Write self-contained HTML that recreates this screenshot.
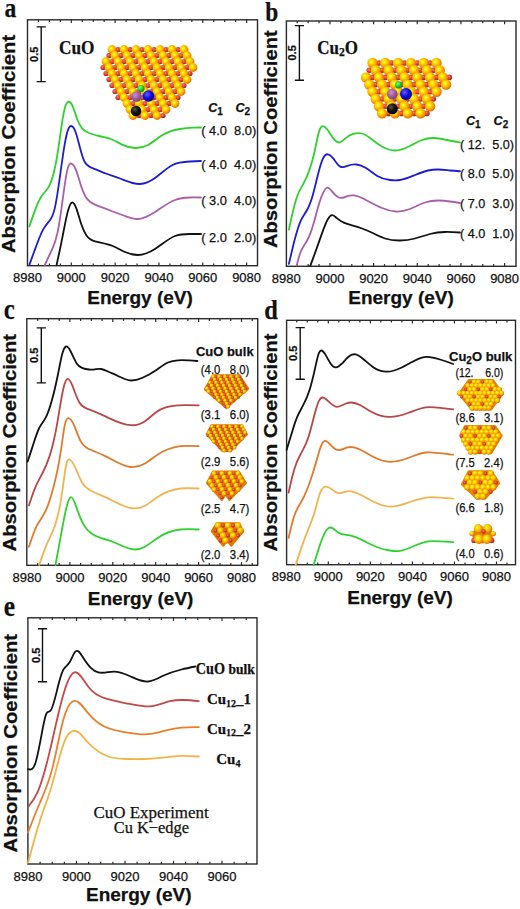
<!DOCTYPE html><html><head><meta charset="utf-8"><style>
body{margin:0;background:#fff;width:520px;height:909px;overflow:hidden}
svg{display:block}
text{font-family:"Liberation Sans",sans-serif;fill:#111;stroke:#111;stroke-width:0.25px}
.tl{font-size:13px}
.et{font-size:19px;font-weight:bold}
.yt{font-size:19px;font-weight:bold}
.sb{font-size:11px;font-weight:bold}
.pl{font-family:"Liberation Serif",serif;font-size:28px;font-weight:bold}
.cl{font-family:"Liberation Serif",serif;font-size:19px;font-weight:bold}
.sub2{font-size:13px}
.sub3{font-size:10px}
.sub4{font-size:10px}
.ci{font-size:12.5px;font-weight:bold;font-style:italic}
.sub{font-size:10px;font-style:normal;font-weight:bold}
.pv{font-size:12.5px}
.bk{font-size:13px;font-weight:bold}
.eb{font-family:"Liberation Serif",serif;font-size:15px;font-weight:bold}
.ex{font-family:"Liberation Serif",serif;font-size:17px}
</style></head><body><svg width="520" height="909" viewBox="0 0 520 909"><text x="4.4" y="17.3" class="pl" text-anchor="start" textLength="11.8" lengthAdjust="spacingAndGlyphs">a</text>
<text transform="translate(15.4,253) rotate(-90)" class="yt" textLength="218.2" lengthAdjust="spacingAndGlyphs">Absorption Coefficient</text>
<rect x="27.5" y="19.8" width="230" height="245.9" fill="none" stroke="#2a2a2a" stroke-width="1.4"/>
<line x1="38.45" y1="19.8" x2="38.45" y2="22" stroke="#2a2a2a" stroke-width="1.2"/>
<line x1="38.45" y1="265.7" x2="38.45" y2="263.5" stroke="#2a2a2a" stroke-width="1.2"/>
<line x1="49.41" y1="19.8" x2="49.41" y2="22" stroke="#2a2a2a" stroke-width="1.2"/>
<line x1="49.41" y1="265.7" x2="49.41" y2="263.5" stroke="#2a2a2a" stroke-width="1.2"/>
<line x1="60.36" y1="19.8" x2="60.36" y2="22" stroke="#2a2a2a" stroke-width="1.2"/>
<line x1="60.36" y1="265.7" x2="60.36" y2="263.5" stroke="#2a2a2a" stroke-width="1.2"/>
<line x1="71.32" y1="19.8" x2="71.32" y2="23" stroke="#2a2a2a" stroke-width="1.2"/>
<line x1="71.32" y1="265.7" x2="71.32" y2="262.5" stroke="#2a2a2a" stroke-width="1.2"/>
<line x1="82.28" y1="19.8" x2="82.28" y2="22" stroke="#2a2a2a" stroke-width="1.2"/>
<line x1="82.28" y1="265.7" x2="82.28" y2="263.5" stroke="#2a2a2a" stroke-width="1.2"/>
<line x1="93.23" y1="19.8" x2="93.23" y2="22" stroke="#2a2a2a" stroke-width="1.2"/>
<line x1="93.23" y1="265.7" x2="93.23" y2="263.5" stroke="#2a2a2a" stroke-width="1.2"/>
<line x1="104.18" y1="19.8" x2="104.18" y2="22" stroke="#2a2a2a" stroke-width="1.2"/>
<line x1="104.18" y1="265.7" x2="104.18" y2="263.5" stroke="#2a2a2a" stroke-width="1.2"/>
<line x1="115.14" y1="19.8" x2="115.14" y2="23" stroke="#2a2a2a" stroke-width="1.2"/>
<line x1="115.14" y1="265.7" x2="115.14" y2="262.5" stroke="#2a2a2a" stroke-width="1.2"/>
<line x1="126.09" y1="19.8" x2="126.09" y2="22" stroke="#2a2a2a" stroke-width="1.2"/>
<line x1="126.09" y1="265.7" x2="126.09" y2="263.5" stroke="#2a2a2a" stroke-width="1.2"/>
<line x1="137.05" y1="19.8" x2="137.05" y2="22" stroke="#2a2a2a" stroke-width="1.2"/>
<line x1="137.05" y1="265.7" x2="137.05" y2="263.5" stroke="#2a2a2a" stroke-width="1.2"/>
<line x1="148" y1="19.8" x2="148" y2="22" stroke="#2a2a2a" stroke-width="1.2"/>
<line x1="148" y1="265.7" x2="148" y2="263.5" stroke="#2a2a2a" stroke-width="1.2"/>
<line x1="158.96" y1="19.8" x2="158.96" y2="23" stroke="#2a2a2a" stroke-width="1.2"/>
<line x1="158.96" y1="265.7" x2="158.96" y2="262.5" stroke="#2a2a2a" stroke-width="1.2"/>
<line x1="169.91" y1="19.8" x2="169.91" y2="22" stroke="#2a2a2a" stroke-width="1.2"/>
<line x1="169.91" y1="265.7" x2="169.91" y2="263.5" stroke="#2a2a2a" stroke-width="1.2"/>
<line x1="180.87" y1="19.8" x2="180.87" y2="22" stroke="#2a2a2a" stroke-width="1.2"/>
<line x1="180.87" y1="265.7" x2="180.87" y2="263.5" stroke="#2a2a2a" stroke-width="1.2"/>
<line x1="191.82" y1="19.8" x2="191.82" y2="22" stroke="#2a2a2a" stroke-width="1.2"/>
<line x1="191.82" y1="265.7" x2="191.82" y2="263.5" stroke="#2a2a2a" stroke-width="1.2"/>
<line x1="202.78" y1="19.8" x2="202.78" y2="23" stroke="#2a2a2a" stroke-width="1.2"/>
<line x1="202.78" y1="265.7" x2="202.78" y2="262.5" stroke="#2a2a2a" stroke-width="1.2"/>
<line x1="213.73" y1="19.8" x2="213.73" y2="22" stroke="#2a2a2a" stroke-width="1.2"/>
<line x1="213.73" y1="265.7" x2="213.73" y2="263.5" stroke="#2a2a2a" stroke-width="1.2"/>
<line x1="224.69" y1="19.8" x2="224.69" y2="22" stroke="#2a2a2a" stroke-width="1.2"/>
<line x1="224.69" y1="265.7" x2="224.69" y2="263.5" stroke="#2a2a2a" stroke-width="1.2"/>
<line x1="235.64" y1="19.8" x2="235.64" y2="22" stroke="#2a2a2a" stroke-width="1.2"/>
<line x1="235.64" y1="265.7" x2="235.64" y2="263.5" stroke="#2a2a2a" stroke-width="1.2"/>
<line x1="246.6" y1="19.8" x2="246.6" y2="23" stroke="#2a2a2a" stroke-width="1.2"/>
<line x1="246.6" y1="265.7" x2="246.6" y2="262.5" stroke="#2a2a2a" stroke-width="1.2"/>
<text x="27.5" y="282.2" class="tl" text-anchor="middle">8980</text>
<text x="71.32" y="282.2" class="tl" text-anchor="middle">9000</text>
<text x="115.14" y="282.2" class="tl" text-anchor="middle">9020</text>
<text x="158.96" y="282.2" class="tl" text-anchor="middle">9040</text>
<text x="202.78" y="282.2" class="tl" text-anchor="middle">9060</text>
<text x="246.6" y="282.2" class="tl" text-anchor="middle">9080</text>
<text x="140" y="303.6" class="et" text-anchor="middle" >Energy (eV)</text>
<path d="M36.6,26.9H45.8M41.2,26.9V81.6M36.6,81.6H45.8" stroke="#111" stroke-width="1.4" fill="none"/>
<text transform="translate(38.2,54.25) rotate(-90)" class="sb" text-anchor="middle">0.5</text>
<text x="59" y="53.6" class="cl" text-anchor="start" textLength="35.5" lengthAdjust="spacingAndGlyphs">CuO</text>
<path d="M29.35,226.4C31.2,220.96 33.05,215.52 34.9,210.6C37.2,204.48 39.5,199.17 41.8,195.8C44.1,192.43 46.4,191.01 48.7,186.9C50.37,183.92 52.03,179.53 53.7,173C55,167.91 56.3,161.52 57.6,153.3C58.93,144.87 60.27,134.5 61.6,125.6C62.9,116.92 64.2,109.62 65.5,105.8C66.37,103.25 67.23,102.25 68.1,101.9C69.57,101.31 71.03,102.58 72.5,105.8C74.13,109.38 75.77,115.37 77.4,119.7C79.03,124.03 80.67,126.72 82.3,128.6C84.97,131.68 87.63,132.63 90.3,133.5C93.87,134.66 97.43,135.68 101,136.5C104.67,137.34 108.33,137.97 112,139.5C115.33,140.89 118.67,143.01 122,144.6C126.5,146.75 131,147.91 135.5,148C139.67,148.08 143.83,147.23 148,145C152.83,142.41 157.67,137.97 162.5,135C168.33,131.42 174.17,129.99 180,129C184.33,128.27 188.67,127.78 193,127.6C195.67,127.49 198.33,127.49 201,127.5" fill="none" stroke="#2fd02f" stroke-width="1.8" stroke-linejoin="round" stroke-linecap="round"/>
<path d="M29.35,265C31.87,257.94 34.38,250.88 36.9,244.2C39.2,238.09 41.5,232.3 43.8,228.4C45.77,225.06 47.73,223.11 49.7,220.5C51.37,218.29 53.03,215.61 54.7,208.6C56.33,201.73 57.97,190.68 59.6,179C61.23,167.32 62.87,154.99 64.5,145.4C65.83,137.57 67.17,131.57 68.5,128.6C69.37,126.67 70.23,126.01 71.1,126C72.53,125.98 73.97,127.71 75.4,131.5C77.07,135.9 78.73,143.08 80.4,149.3C81.7,154.15 83,158.41 84.3,161.2C86.3,165.49 88.3,166.28 90.3,167.1C95.47,169.23 100.63,171.57 105.8,173.5C110.53,175.27 115.27,176.7 120,178.5C126.67,181.04 133.33,184.31 140,184C145,183.77 150,181.52 155,178C160.83,173.89 166.67,168.03 172.5,165C178.33,161.97 184.17,161.75 190,161.5C193.67,161.34 197.33,161.17 201,161" fill="none" stroke="#1e1ec8" stroke-width="1.8" stroke-linejoin="round" stroke-linecap="round"/>
<path d="M44.8,265C47.1,260.04 49.4,255.07 51.7,250.2C53.67,246.03 55.63,241.93 57.6,232.4C59.6,222.7 61.6,207.39 63.6,192.8C64.9,183.32 66.2,174.14 67.5,169.1C68.83,163.93 70.17,163.12 71.5,163.6C73.13,164.19 74.77,166.73 76.4,171.1C78.07,175.56 79.73,181.93 81.4,186.9C83.03,191.77 84.67,195.29 86.3,197.8C89.2,202.25 92.1,203.5 95,204.7C100.9,207.13 106.8,209.33 112.7,211.5C116.8,213.01 120.9,214.5 125,216C129.17,217.52 133.33,219.05 137.5,219C143.33,218.93 149.17,215.78 155,212C161.67,207.68 168.33,202.54 175,200C180,198.09 185,197.65 190,197.5C193.67,197.39 197.33,197.45 201,197.5" fill="none" stroke="#a860a8" stroke-width="1.8" stroke-linejoin="round" stroke-linecap="round"/>
<path d="M56.6,265C58.6,255.74 60.6,246.48 62.6,236.3C64.23,227.99 65.87,219.06 67.5,212.6C68.83,207.33 70.17,203.71 71.5,202.7C73.13,201.46 74.77,204.15 76.4,208.6C78.07,213.14 79.73,219.53 81.4,224.5C83.03,229.37 84.67,232.87 86.3,235.3C89.2,239.61 92.1,240.55 95,241.3C100.9,242.82 106.8,243.57 112.7,246C116.8,247.69 120.9,250.18 125,252C129.17,253.85 133.33,255 137.5,255C143.33,254.99 149.17,252.71 155,249C161.67,244.76 168.33,238.64 175,236C180,234.02 185,234.01 190,234C193.67,234 197.33,234 201,234" fill="none" stroke="#111111" stroke-width="1.8" stroke-linejoin="round" stroke-linecap="round"/>
<text x="208.3" y="111.9" class="ci" text-anchor="start" >C<tspan class="sub" dy="2.6">1</tspan></text>
<text x="235.4" y="111.9" class="ci" text-anchor="start" >C<tspan class="sub" dy="2.6">2</tspan></text>
<text x="201.2" y="135" class="pv" text-anchor="start" textLength="55" lengthAdjust="spacingAndGlyphs">(&#160;4.0&#160;&#160;8.0)</text>
<text x="201.2" y="168.8" class="pv" text-anchor="start" textLength="55" lengthAdjust="spacingAndGlyphs">(&#160;4.0&#160;&#160;4.0)</text>
<text x="201.2" y="205.2" class="pv" text-anchor="start" textLength="55" lengthAdjust="spacingAndGlyphs">(&#160;3.0&#160;&#160;4.0)</text>
<text x="201.2" y="241.6" class="pv" text-anchor="start" textLength="55" lengthAdjust="spacingAndGlyphs">(&#160;2.0&#160;&#160;2.0)</text>
<text x="265.2" y="20.8" class="pl" text-anchor="start" textLength="13" lengthAdjust="spacingAndGlyphs">b</text>
<text transform="translate(277.3,248.1) rotate(-90)" class="yt" textLength="217.9" lengthAdjust="spacingAndGlyphs">Absorption Coefficient</text>
<rect x="286.4" y="21" width="229.6" height="245.3" fill="none" stroke="#2a2a2a" stroke-width="1.4"/>
<line x1="297.22" y1="21" x2="297.22" y2="23.2" stroke="#2a2a2a" stroke-width="1.2"/>
<line x1="297.22" y1="266.3" x2="297.22" y2="264.1" stroke="#2a2a2a" stroke-width="1.2"/>
<line x1="308.13" y1="21" x2="308.13" y2="23.2" stroke="#2a2a2a" stroke-width="1.2"/>
<line x1="308.13" y1="266.3" x2="308.13" y2="264.1" stroke="#2a2a2a" stroke-width="1.2"/>
<line x1="319.05" y1="21" x2="319.05" y2="23.2" stroke="#2a2a2a" stroke-width="1.2"/>
<line x1="319.05" y1="266.3" x2="319.05" y2="264.1" stroke="#2a2a2a" stroke-width="1.2"/>
<line x1="329.96" y1="21" x2="329.96" y2="24.2" stroke="#2a2a2a" stroke-width="1.2"/>
<line x1="329.96" y1="266.3" x2="329.96" y2="263.1" stroke="#2a2a2a" stroke-width="1.2"/>
<line x1="340.88" y1="21" x2="340.88" y2="23.2" stroke="#2a2a2a" stroke-width="1.2"/>
<line x1="340.88" y1="266.3" x2="340.88" y2="264.1" stroke="#2a2a2a" stroke-width="1.2"/>
<line x1="351.79" y1="21" x2="351.79" y2="23.2" stroke="#2a2a2a" stroke-width="1.2"/>
<line x1="351.79" y1="266.3" x2="351.79" y2="264.1" stroke="#2a2a2a" stroke-width="1.2"/>
<line x1="362.71" y1="21" x2="362.71" y2="23.2" stroke="#2a2a2a" stroke-width="1.2"/>
<line x1="362.71" y1="266.3" x2="362.71" y2="264.1" stroke="#2a2a2a" stroke-width="1.2"/>
<line x1="373.62" y1="21" x2="373.62" y2="24.2" stroke="#2a2a2a" stroke-width="1.2"/>
<line x1="373.62" y1="266.3" x2="373.62" y2="263.1" stroke="#2a2a2a" stroke-width="1.2"/>
<line x1="384.53" y1="21" x2="384.53" y2="23.2" stroke="#2a2a2a" stroke-width="1.2"/>
<line x1="384.53" y1="266.3" x2="384.53" y2="264.1" stroke="#2a2a2a" stroke-width="1.2"/>
<line x1="395.45" y1="21" x2="395.45" y2="23.2" stroke="#2a2a2a" stroke-width="1.2"/>
<line x1="395.45" y1="266.3" x2="395.45" y2="264.1" stroke="#2a2a2a" stroke-width="1.2"/>
<line x1="406.37" y1="21" x2="406.37" y2="23.2" stroke="#2a2a2a" stroke-width="1.2"/>
<line x1="406.37" y1="266.3" x2="406.37" y2="264.1" stroke="#2a2a2a" stroke-width="1.2"/>
<line x1="417.28" y1="21" x2="417.28" y2="24.2" stroke="#2a2a2a" stroke-width="1.2"/>
<line x1="417.28" y1="266.3" x2="417.28" y2="263.1" stroke="#2a2a2a" stroke-width="1.2"/>
<line x1="428.19" y1="21" x2="428.19" y2="23.2" stroke="#2a2a2a" stroke-width="1.2"/>
<line x1="428.19" y1="266.3" x2="428.19" y2="264.1" stroke="#2a2a2a" stroke-width="1.2"/>
<line x1="439.11" y1="21" x2="439.11" y2="23.2" stroke="#2a2a2a" stroke-width="1.2"/>
<line x1="439.11" y1="266.3" x2="439.11" y2="264.1" stroke="#2a2a2a" stroke-width="1.2"/>
<line x1="450.02" y1="21" x2="450.02" y2="23.2" stroke="#2a2a2a" stroke-width="1.2"/>
<line x1="450.02" y1="266.3" x2="450.02" y2="264.1" stroke="#2a2a2a" stroke-width="1.2"/>
<line x1="460.94" y1="21" x2="460.94" y2="24.2" stroke="#2a2a2a" stroke-width="1.2"/>
<line x1="460.94" y1="266.3" x2="460.94" y2="263.1" stroke="#2a2a2a" stroke-width="1.2"/>
<line x1="471.86" y1="21" x2="471.86" y2="23.2" stroke="#2a2a2a" stroke-width="1.2"/>
<line x1="471.86" y1="266.3" x2="471.86" y2="264.1" stroke="#2a2a2a" stroke-width="1.2"/>
<line x1="482.77" y1="21" x2="482.77" y2="23.2" stroke="#2a2a2a" stroke-width="1.2"/>
<line x1="482.77" y1="266.3" x2="482.77" y2="264.1" stroke="#2a2a2a" stroke-width="1.2"/>
<line x1="493.69" y1="21" x2="493.69" y2="23.2" stroke="#2a2a2a" stroke-width="1.2"/>
<line x1="493.69" y1="266.3" x2="493.69" y2="264.1" stroke="#2a2a2a" stroke-width="1.2"/>
<line x1="504.6" y1="21" x2="504.6" y2="24.2" stroke="#2a2a2a" stroke-width="1.2"/>
<line x1="504.6" y1="266.3" x2="504.6" y2="263.1" stroke="#2a2a2a" stroke-width="1.2"/>
<text x="286.3" y="282.8" class="tl" text-anchor="middle">8980</text>
<text x="329.96" y="282.8" class="tl" text-anchor="middle">9000</text>
<text x="373.62" y="282.8" class="tl" text-anchor="middle">9020</text>
<text x="417.28" y="282.8" class="tl" text-anchor="middle">9040</text>
<text x="460.94" y="282.8" class="tl" text-anchor="middle">9060</text>
<text x="504.6" y="282.8" class="tl" text-anchor="middle">9080</text>
<text x="401" y="303.8" class="et" text-anchor="middle" >Energy (eV)</text>
<path d="M294.8,25.6H304M299.4,25.6V80.2M294.8,80.2H304" stroke="#111" stroke-width="1.4" fill="none"/>
<text transform="translate(296.4,52.9) rotate(-90)" class="sb" text-anchor="middle">0.5</text>
<text x="317.3" y="53.6" class="cl" text-anchor="start" textLength="40.8" lengthAdjust="spacingAndGlyphs">Cu<tspan class="sub2" dy="2.4">2</tspan><tspan dy="-2.4">O</tspan></text>
<path d="M288.9,229.6C290.2,223.55 291.5,217.5 292.8,212C294.27,205.8 295.73,200.29 297.2,196.2C299.23,190.53 301.27,187.57 303.3,183.9C305.37,180.17 307.43,175.71 309.5,169.8C311.27,164.75 313.03,158.65 314.8,150.5C316.27,143.73 317.73,135.56 319.2,131.1C320.37,127.55 321.53,126.36 322.7,126.2C324.17,126 325.63,127.42 327.1,129.3C329.13,131.91 331.17,135.41 333.2,138.1C335.27,140.84 337.33,142.74 339.4,142.5C341.47,142.26 343.53,139.87 345.6,138.1C348.4,135.7 351.2,134.45 354,133.7C356.67,132.99 359.33,132.73 362,133.5C364.67,134.27 367.33,136.06 370,138C374,140.91 378,144.16 382,146.5C386.33,149.03 390.67,150.5 395,150.5C400,150.5 405,148.56 410,146C414,143.95 418,141.52 422,140C425.92,138.51 429.83,137.91 433.75,138C438.17,138.1 442.58,139.09 447,140C451.33,140.89 455.67,141.69 460,142.5" fill="none" stroke="#2fd02f" stroke-width="1.8" stroke-linejoin="round" stroke-linecap="round"/>
<path d="M288.9,263.9C290.8,255.68 292.7,247.45 294.6,240.1C296.63,232.23 298.67,225.37 300.7,220.8C302.77,216.16 304.83,213.88 306.9,210.2C308.93,206.58 310.97,201.59 313,194.4C314.77,188.15 316.53,180.24 318.3,173.3C319.77,167.54 321.23,162.45 322.7,159.2C324.47,155.29 326.23,154.05 328,154.3C329.73,154.55 331.47,156.23 333.2,158.4C335.57,161.37 337.93,165.26 340.3,166.6C342.63,167.92 344.97,166.75 347.3,165.9C350.37,164.78 353.43,164.21 356.5,164.5C359.67,164.8 362.83,166.02 366,168C369.77,170.35 373.53,173.78 377.3,176C381.53,178.5 385.77,179.49 390,180C393.33,180.4 396.67,180.51 400,180C405,179.23 410,177.07 415,175C419.33,173.2 423.67,171.48 428,170.5C431.58,169.69 435.17,169.4 438.75,169.5C442.5,169.6 446.25,170.13 450,170.5C453.33,170.83 456.67,171.04 460,171.25" fill="none" stroke="#1e1ec8" stroke-width="1.8" stroke-linejoin="round" stroke-linecap="round"/>
<path d="M296.7,265.6C297.73,261.47 298.77,257.33 299.8,254.2C302.17,247.03 304.53,245.1 306.9,241C309.23,236.96 311.57,230.79 313.9,222.6C315.67,216.4 317.43,209.03 319.2,203.2C320.67,198.36 322.13,194.58 323.6,191.8C324.77,189.59 325.93,188.01 327.1,187.7C328.87,187.23 330.63,189.67 332.4,191.8C335.03,194.98 337.67,197.49 340.3,197.9C342.63,198.26 344.97,196.98 347.3,196.2C349.6,195.43 351.9,195.14 354.2,195.4C358.13,195.85 362.07,197.9 366,200C371.33,202.85 376.67,205.8 382,208C386.67,209.93 391.33,211.28 396,211.5C400.67,211.72 405.33,210.79 410,209C415,207.08 420,204.18 425,202.5C429.58,200.96 434.17,200.44 438.75,200.5C442.5,200.55 446.25,200.98 450,201.5C453.33,201.96 456.67,202.48 460,203" fill="none" stroke="#a860a8" stroke-width="1.8" stroke-linejoin="round" stroke-linecap="round"/>
<path d="M310.4,265.6C312.43,260.11 314.47,254.61 316.5,248.9C318.57,243.09 320.63,237.06 322.7,231.4C324.47,226.56 326.23,222 328,219C329.47,216.51 330.93,215.1 332.4,215.2C333.87,215.3 335.33,216.9 336.8,218.2C339.13,220.27 341.47,221.58 343.8,222.6C346.53,223.8 349.27,224.61 352,225.4C355.33,226.37 358.67,227.32 362,228.5C365.57,229.77 369.13,231.3 372.7,233C376.8,234.96 380.9,237.14 385,238.5C390,240.16 395,240.59 400,240.5C405,240.41 410,239.78 415,238.5C420,237.22 425,235.27 430,234C435,232.73 440,232.14 445,232C450,231.86 455,232.18 460,232.5" fill="none" stroke="#111111" stroke-width="1.8" stroke-linejoin="round" stroke-linecap="round"/>
<text x="466" y="125.4" class="ci" text-anchor="start" >C<tspan class="sub" dy="2.6">1</tspan></text>
<text x="493.6" y="125.4" class="ci" text-anchor="start" >C<tspan class="sub" dy="2.6">2</tspan></text>
<text x="460" y="148.8" class="pv" text-anchor="start" textLength="54" lengthAdjust="spacingAndGlyphs">(&#160;12.&#160;&#160;5.0)</text>
<text x="460" y="178.3" class="pv" text-anchor="start" textLength="54" lengthAdjust="spacingAndGlyphs">(&#160;8.0&#160;&#160;5.0)</text>
<text x="460" y="208.2" class="pv" text-anchor="start" textLength="54" lengthAdjust="spacingAndGlyphs">(&#160;7.0&#160;&#160;3.0)</text>
<text x="460" y="238.4" class="pv" text-anchor="start" textLength="54" lengthAdjust="spacingAndGlyphs">(&#160;4.0&#160;&#160;1.0)</text>
<text x="3.8" y="318.5" class="pl" text-anchor="start" style="font-size:30px" textLength="11" lengthAdjust="spacingAndGlyphs">c</text>
<text transform="translate(15.6,551.4) rotate(-90)" class="yt" textLength="217.4" lengthAdjust="spacingAndGlyphs">Absorption Coefficient</text>
<rect x="26.8" y="318.7" width="230.9" height="246.6" fill="none" stroke="#2a2a2a" stroke-width="1.4"/>
<line x1="37.73" y1="318.7" x2="37.73" y2="320.9" stroke="#2a2a2a" stroke-width="1.2"/>
<line x1="37.73" y1="565.3" x2="37.73" y2="563.1" stroke="#2a2a2a" stroke-width="1.2"/>
<line x1="48.45" y1="318.7" x2="48.45" y2="320.9" stroke="#2a2a2a" stroke-width="1.2"/>
<line x1="48.45" y1="565.3" x2="48.45" y2="563.1" stroke="#2a2a2a" stroke-width="1.2"/>
<line x1="59.17" y1="318.7" x2="59.17" y2="320.9" stroke="#2a2a2a" stroke-width="1.2"/>
<line x1="59.17" y1="565.3" x2="59.17" y2="563.1" stroke="#2a2a2a" stroke-width="1.2"/>
<line x1="69.9" y1="318.7" x2="69.9" y2="321.9" stroke="#2a2a2a" stroke-width="1.2"/>
<line x1="69.9" y1="565.3" x2="69.9" y2="562.1" stroke="#2a2a2a" stroke-width="1.2"/>
<line x1="80.62" y1="318.7" x2="80.62" y2="320.9" stroke="#2a2a2a" stroke-width="1.2"/>
<line x1="80.62" y1="565.3" x2="80.62" y2="563.1" stroke="#2a2a2a" stroke-width="1.2"/>
<line x1="91.35" y1="318.7" x2="91.35" y2="320.9" stroke="#2a2a2a" stroke-width="1.2"/>
<line x1="91.35" y1="565.3" x2="91.35" y2="563.1" stroke="#2a2a2a" stroke-width="1.2"/>
<line x1="102.08" y1="318.7" x2="102.08" y2="320.9" stroke="#2a2a2a" stroke-width="1.2"/>
<line x1="102.08" y1="565.3" x2="102.08" y2="563.1" stroke="#2a2a2a" stroke-width="1.2"/>
<line x1="112.8" y1="318.7" x2="112.8" y2="321.9" stroke="#2a2a2a" stroke-width="1.2"/>
<line x1="112.8" y1="565.3" x2="112.8" y2="562.1" stroke="#2a2a2a" stroke-width="1.2"/>
<line x1="123.53" y1="318.7" x2="123.53" y2="320.9" stroke="#2a2a2a" stroke-width="1.2"/>
<line x1="123.53" y1="565.3" x2="123.53" y2="563.1" stroke="#2a2a2a" stroke-width="1.2"/>
<line x1="134.25" y1="318.7" x2="134.25" y2="320.9" stroke="#2a2a2a" stroke-width="1.2"/>
<line x1="134.25" y1="565.3" x2="134.25" y2="563.1" stroke="#2a2a2a" stroke-width="1.2"/>
<line x1="144.97" y1="318.7" x2="144.97" y2="320.9" stroke="#2a2a2a" stroke-width="1.2"/>
<line x1="144.97" y1="565.3" x2="144.97" y2="563.1" stroke="#2a2a2a" stroke-width="1.2"/>
<line x1="155.7" y1="318.7" x2="155.7" y2="321.9" stroke="#2a2a2a" stroke-width="1.2"/>
<line x1="155.7" y1="565.3" x2="155.7" y2="562.1" stroke="#2a2a2a" stroke-width="1.2"/>
<line x1="166.43" y1="318.7" x2="166.43" y2="320.9" stroke="#2a2a2a" stroke-width="1.2"/>
<line x1="166.43" y1="565.3" x2="166.43" y2="563.1" stroke="#2a2a2a" stroke-width="1.2"/>
<line x1="177.15" y1="318.7" x2="177.15" y2="320.9" stroke="#2a2a2a" stroke-width="1.2"/>
<line x1="177.15" y1="565.3" x2="177.15" y2="563.1" stroke="#2a2a2a" stroke-width="1.2"/>
<line x1="187.88" y1="318.7" x2="187.88" y2="320.9" stroke="#2a2a2a" stroke-width="1.2"/>
<line x1="187.88" y1="565.3" x2="187.88" y2="563.1" stroke="#2a2a2a" stroke-width="1.2"/>
<line x1="198.6" y1="318.7" x2="198.6" y2="321.9" stroke="#2a2a2a" stroke-width="1.2"/>
<line x1="198.6" y1="565.3" x2="198.6" y2="562.1" stroke="#2a2a2a" stroke-width="1.2"/>
<line x1="209.32" y1="318.7" x2="209.32" y2="320.9" stroke="#2a2a2a" stroke-width="1.2"/>
<line x1="209.32" y1="565.3" x2="209.32" y2="563.1" stroke="#2a2a2a" stroke-width="1.2"/>
<line x1="220.05" y1="318.7" x2="220.05" y2="320.9" stroke="#2a2a2a" stroke-width="1.2"/>
<line x1="220.05" y1="565.3" x2="220.05" y2="563.1" stroke="#2a2a2a" stroke-width="1.2"/>
<line x1="230.78" y1="318.7" x2="230.78" y2="320.9" stroke="#2a2a2a" stroke-width="1.2"/>
<line x1="230.78" y1="565.3" x2="230.78" y2="563.1" stroke="#2a2a2a" stroke-width="1.2"/>
<line x1="241.5" y1="318.7" x2="241.5" y2="321.9" stroke="#2a2a2a" stroke-width="1.2"/>
<line x1="241.5" y1="565.3" x2="241.5" y2="562.1" stroke="#2a2a2a" stroke-width="1.2"/>
<line x1="252.22" y1="318.7" x2="252.22" y2="320.9" stroke="#2a2a2a" stroke-width="1.2"/>
<line x1="252.22" y1="565.3" x2="252.22" y2="563.1" stroke="#2a2a2a" stroke-width="1.2"/>
<text x="27" y="581.8" class="tl" text-anchor="middle">8980</text>
<text x="69.9" y="581.8" class="tl" text-anchor="middle">9000</text>
<text x="112.8" y="581.8" class="tl" text-anchor="middle">9020</text>
<text x="155.7" y="581.8" class="tl" text-anchor="middle">9040</text>
<text x="198.6" y="581.8" class="tl" text-anchor="middle">9060</text>
<text x="241.5" y="581.8" class="tl" text-anchor="middle">9080</text>
<text x="140.6" y="604.5" class="et" text-anchor="middle" >Energy (eV)</text>
<path d="M36.7,327.9H45.9M41.3,327.9V382.9M36.7,382.9H45.9" stroke="#111" stroke-width="1.4" fill="none"/>
<text transform="translate(38.3,355.4) rotate(-90)" class="sb" text-anchor="middle">0.5</text>
<path d="M27.6,461.6C29.3,456.49 31,451.37 32.7,446.1C34.87,439.38 37.03,432.4 39.2,428C41.37,423.6 43.53,421.79 45.7,417.7C47.83,413.67 49.97,407.42 52.1,399.6C54.27,391.66 56.43,382.09 58.6,371.2C59.9,364.66 61.2,357.65 62.5,353.1C63.6,349.25 64.7,347.17 65.8,346.6C67.27,345.85 68.73,347.79 70.2,350.5C72.37,354.5 74.53,360.17 76.7,363.4C78.47,366.03 80.23,367.05 82,367.8C84.33,368.79 86.67,369.33 89,369.5C91,369.65 93,369.53 95,369.3C97,369.07 99,368.73 101,369C103.33,369.31 105.67,370.44 108,371.5C111,372.86 114,374.09 117,375.5C121.33,377.53 125.67,379.92 130,380.4C134,380.84 138,379.66 142,378C146.8,376.01 151.6,373.32 156.4,370C160.27,367.32 164.13,364.23 168,362.5C171.33,361.01 174.67,360.52 178,360.3C184.47,359.87 190.93,360.44 197.4,361" fill="none" stroke="#111111" stroke-width="1.8" stroke-linejoin="round" stroke-linecap="round"/>
<path d="M28.9,505.5C31.03,498.99 33.17,492.48 35.3,487.4C37.47,482.24 39.63,478.56 41.8,474.5C44.37,469.69 46.93,464.34 49.5,456.4C52.1,448.36 54.7,437.67 57.3,422.8C59.47,410.41 61.63,395.12 63.8,386.7C65.07,381.78 66.33,379.21 67.6,378.9C69.33,378.48 71.07,382.3 72.8,386.7C74.93,392.12 77.07,398.42 79.2,402.2C81.8,406.81 84.4,407.66 87,408.6C92.77,410.68 98.53,413.17 104.3,415.9C113.1,420.06 121.9,424.77 130.7,425.2C135.47,425.44 140.23,424.42 145,421.2C148.8,418.63 152.6,414.67 156.4,411.9C163.47,406.75 170.53,405.71 177.6,405.3C184.63,404.89 191.67,405.09 198.7,405.3" fill="none" stroke="#b84848" stroke-width="1.8" stroke-linejoin="round" stroke-linecap="round"/>
<path d="M28.9,546.8C31.47,539.12 34.03,531.44 36.6,526.2C39.63,520.01 42.67,517.23 45.7,510.7C48.27,505.17 50.83,496.96 53.4,487.4C56,477.71 58.6,466.64 61.2,448.7C62.47,439.96 63.73,429.59 65,424.1C66.13,419.19 67.27,418.18 68.4,418.2C70.3,418.23 72.2,421.12 74.1,425.4C76.23,430.2 78.37,436.76 80.5,440.9C83.1,445.95 85.7,447.43 88.3,448.7C93.63,451.31 98.97,453.05 104.3,455.6C113.1,459.8 121.9,466.18 130.7,467C135.47,467.44 140.23,466.26 145,463.5C148.8,461.3 152.6,458.11 156.4,455.5C164.33,450.06 172.27,447.18 180.2,446.2C186.37,445.44 192.53,445.82 198.7,446.2" fill="none" stroke="#e07b2c" stroke-width="1.8" stroke-linejoin="round" stroke-linecap="round"/>
<path d="M39.2,564.9C41.37,558.46 43.53,552.02 45.7,546.8C48.7,539.57 51.7,534.68 54.7,526.2C57.3,518.85 59.9,508.79 62.5,490C63.77,480.84 65.03,469.62 66.3,464.2C67.33,459.78 68.37,459.23 69.4,459.5C71.4,460.01 73.4,463.57 75.4,468C77.53,472.72 79.67,478.43 81.8,482.2C84.4,486.8 87,488.53 89.6,490C95.4,493.27 101.2,495.2 107,497.9C115.8,501.99 124.6,507.84 133.4,508.4C137.27,508.65 141.13,507.88 145,505.8C148.8,503.76 152.6,500.46 156.4,497.8C164.33,492.24 172.27,489.45 180.2,488.5C186.37,487.76 192.53,488.13 198.7,488.5" fill="none" stroke="#f0b452" stroke-width="1.8" stroke-linejoin="round" stroke-linecap="round"/>
<path d="M55.5,564.9C57.4,554.62 59.3,544.35 61.2,533.9C62.9,524.55 64.6,515.07 66.3,508.1C67.87,501.68 69.43,497.39 71,497.2C72.9,496.96 74.8,502.74 76.7,508.1C78.83,514.12 80.97,519.6 83.1,523.6C86.13,529.28 89.17,531.95 92.2,533.9C98.87,538.18 105.53,538.99 112.2,541.5C119.27,544.17 126.33,548.76 133.4,549.4C137.27,549.75 141.13,548.92 145,546.8C148.8,544.71 152.6,541.37 156.4,538.7C164.33,533.12 172.27,530.42 180.2,529.5C186.37,528.78 192.53,529.14 198.7,529.5" fill="none" stroke="#2fd02f" stroke-width="1.8" stroke-linejoin="round" stroke-linecap="round"/>
<text x="196" y="356" class="bk" text-anchor="start" textLength="57.6" lengthAdjust="spacingAndGlyphs">CuO bulk</text>
<text x="200.8" y="373.7" class="pv" text-anchor="start" textLength="48.6" lengthAdjust="spacingAndGlyphs">(4.0&#160;&#160;&#160;8.0)</text>
<text x="200.8" y="419.2" class="pv" text-anchor="start" textLength="48.6" lengthAdjust="spacingAndGlyphs">(3.1&#160;&#160;&#160;6.0)</text>
<text x="200.8" y="465.8" class="pv" text-anchor="start" textLength="48.6" lengthAdjust="spacingAndGlyphs">(2.9&#160;&#160;&#160;5.6)</text>
<text x="200.8" y="512.5" class="pv" text-anchor="start" textLength="48.6" lengthAdjust="spacingAndGlyphs">(2.5&#160;&#160;&#160;4.7)</text>
<text x="200.8" y="559.3" class="pv" text-anchor="start" textLength="48.6" lengthAdjust="spacingAndGlyphs">(2.0&#160;&#160;&#160;3.4)</text>
<text x="264.2" y="319.4" class="pl" text-anchor="start" textLength="13.6" lengthAdjust="spacingAndGlyphs">d</text>
<text transform="translate(277.3,551.5) rotate(-90)" class="yt" textLength="218" lengthAdjust="spacingAndGlyphs">Absorption Coefficient</text>
<rect x="286.6" y="320.3" width="228.9" height="244.4" fill="none" stroke="#2a2a2a" stroke-width="1.4"/>
<line x1="296.76" y1="320.3" x2="296.76" y2="322.5" stroke="#2a2a2a" stroke-width="1.2"/>
<line x1="296.76" y1="564.7" x2="296.76" y2="562.5" stroke="#2a2a2a" stroke-width="1.2"/>
<line x1="307.27" y1="320.3" x2="307.27" y2="322.5" stroke="#2a2a2a" stroke-width="1.2"/>
<line x1="307.27" y1="564.7" x2="307.27" y2="562.5" stroke="#2a2a2a" stroke-width="1.2"/>
<line x1="317.79" y1="320.3" x2="317.79" y2="322.5" stroke="#2a2a2a" stroke-width="1.2"/>
<line x1="317.79" y1="564.7" x2="317.79" y2="562.5" stroke="#2a2a2a" stroke-width="1.2"/>
<line x1="328.3" y1="320.3" x2="328.3" y2="323.5" stroke="#2a2a2a" stroke-width="1.2"/>
<line x1="328.3" y1="564.7" x2="328.3" y2="561.5" stroke="#2a2a2a" stroke-width="1.2"/>
<line x1="338.81" y1="320.3" x2="338.81" y2="322.5" stroke="#2a2a2a" stroke-width="1.2"/>
<line x1="338.81" y1="564.7" x2="338.81" y2="562.5" stroke="#2a2a2a" stroke-width="1.2"/>
<line x1="349.32" y1="320.3" x2="349.32" y2="322.5" stroke="#2a2a2a" stroke-width="1.2"/>
<line x1="349.32" y1="564.7" x2="349.32" y2="562.5" stroke="#2a2a2a" stroke-width="1.2"/>
<line x1="359.84" y1="320.3" x2="359.84" y2="322.5" stroke="#2a2a2a" stroke-width="1.2"/>
<line x1="359.84" y1="564.7" x2="359.84" y2="562.5" stroke="#2a2a2a" stroke-width="1.2"/>
<line x1="370.35" y1="320.3" x2="370.35" y2="323.5" stroke="#2a2a2a" stroke-width="1.2"/>
<line x1="370.35" y1="564.7" x2="370.35" y2="561.5" stroke="#2a2a2a" stroke-width="1.2"/>
<line x1="380.86" y1="320.3" x2="380.86" y2="322.5" stroke="#2a2a2a" stroke-width="1.2"/>
<line x1="380.86" y1="564.7" x2="380.86" y2="562.5" stroke="#2a2a2a" stroke-width="1.2"/>
<line x1="391.38" y1="320.3" x2="391.38" y2="322.5" stroke="#2a2a2a" stroke-width="1.2"/>
<line x1="391.38" y1="564.7" x2="391.38" y2="562.5" stroke="#2a2a2a" stroke-width="1.2"/>
<line x1="401.89" y1="320.3" x2="401.89" y2="322.5" stroke="#2a2a2a" stroke-width="1.2"/>
<line x1="401.89" y1="564.7" x2="401.89" y2="562.5" stroke="#2a2a2a" stroke-width="1.2"/>
<line x1="412.4" y1="320.3" x2="412.4" y2="323.5" stroke="#2a2a2a" stroke-width="1.2"/>
<line x1="412.4" y1="564.7" x2="412.4" y2="561.5" stroke="#2a2a2a" stroke-width="1.2"/>
<line x1="422.91" y1="320.3" x2="422.91" y2="322.5" stroke="#2a2a2a" stroke-width="1.2"/>
<line x1="422.91" y1="564.7" x2="422.91" y2="562.5" stroke="#2a2a2a" stroke-width="1.2"/>
<line x1="433.43" y1="320.3" x2="433.43" y2="322.5" stroke="#2a2a2a" stroke-width="1.2"/>
<line x1="433.43" y1="564.7" x2="433.43" y2="562.5" stroke="#2a2a2a" stroke-width="1.2"/>
<line x1="443.94" y1="320.3" x2="443.94" y2="322.5" stroke="#2a2a2a" stroke-width="1.2"/>
<line x1="443.94" y1="564.7" x2="443.94" y2="562.5" stroke="#2a2a2a" stroke-width="1.2"/>
<line x1="454.45" y1="320.3" x2="454.45" y2="323.5" stroke="#2a2a2a" stroke-width="1.2"/>
<line x1="454.45" y1="564.7" x2="454.45" y2="561.5" stroke="#2a2a2a" stroke-width="1.2"/>
<line x1="464.96" y1="320.3" x2="464.96" y2="322.5" stroke="#2a2a2a" stroke-width="1.2"/>
<line x1="464.96" y1="564.7" x2="464.96" y2="562.5" stroke="#2a2a2a" stroke-width="1.2"/>
<line x1="475.48" y1="320.3" x2="475.48" y2="322.5" stroke="#2a2a2a" stroke-width="1.2"/>
<line x1="475.48" y1="564.7" x2="475.48" y2="562.5" stroke="#2a2a2a" stroke-width="1.2"/>
<line x1="485.99" y1="320.3" x2="485.99" y2="322.5" stroke="#2a2a2a" stroke-width="1.2"/>
<line x1="485.99" y1="564.7" x2="485.99" y2="562.5" stroke="#2a2a2a" stroke-width="1.2"/>
<line x1="496.5" y1="320.3" x2="496.5" y2="323.5" stroke="#2a2a2a" stroke-width="1.2"/>
<line x1="496.5" y1="564.7" x2="496.5" y2="561.5" stroke="#2a2a2a" stroke-width="1.2"/>
<line x1="507.01" y1="320.3" x2="507.01" y2="322.5" stroke="#2a2a2a" stroke-width="1.2"/>
<line x1="507.01" y1="564.7" x2="507.01" y2="562.5" stroke="#2a2a2a" stroke-width="1.2"/>
<text x="286.25" y="581.2" class="tl" text-anchor="middle">8980</text>
<text x="328.3" y="581.2" class="tl" text-anchor="middle">9000</text>
<text x="370.35" y="581.2" class="tl" text-anchor="middle">9020</text>
<text x="412.4" y="581.2" class="tl" text-anchor="middle">9040</text>
<text x="454.45" y="581.2" class="tl" text-anchor="middle">9060</text>
<text x="496.5" y="581.2" class="tl" text-anchor="middle">9080</text>
<text x="400" y="603.8" class="et" text-anchor="middle" >Energy (eV)</text>
<path d="M295.6,327.6H304.8M300.2,327.6V379.2M295.6,379.2H304.8" stroke="#111" stroke-width="1.4" fill="none"/>
<text transform="translate(297.3,353.4) rotate(-90)" class="sb" text-anchor="middle">0.5</text>
<path d="M286.6,450C288.3,444.37 290,438.73 291.7,433.2C293.43,427.56 295.17,422.02 296.9,417.7C299.07,412.3 301.23,408.79 303.4,404.7C305.53,400.67 307.67,396.07 309.8,389.2C311.53,383.62 313.27,376.53 315,368.6C316.3,362.65 317.6,356.22 318.9,353.1C319.77,351.02 320.63,350.4 321.5,350.5C322.77,350.64 324.03,352.31 325.3,354.4C327.03,357.26 328.77,360.91 330.5,363.4C332.23,365.89 333.97,367.22 335.7,367.3C337.83,367.4 339.97,365.6 342.1,363.4C344.7,360.72 347.3,357.43 349.9,355.7C351.83,354.41 353.77,353.98 355.7,354.4C357.8,354.86 359.9,356.32 362,358C365.87,361.09 369.73,364.92 373.6,367.5C378.17,370.55 382.73,371.87 387.3,371.7C391.53,371.55 395.77,370.12 400,368.2C404,366.39 408,364.13 412,362C416.13,359.8 420.27,357.72 424.4,357.1C429.6,356.31 434.8,357.82 440,359.5C444.4,360.92 448.8,362.46 453.2,364" fill="none" stroke="#111111" stroke-width="1.8" stroke-linejoin="round" stroke-linecap="round"/>
<path d="M288.6,492.6C290.5,484.1 292.4,475.61 294.3,469.3C296.47,462.11 298.63,457.76 300.8,453.8C303.37,449.11 305.93,444.96 308.5,437C310.23,431.63 311.97,424.52 313.7,417.7C315.43,410.88 317.17,404.36 318.9,400.9C320.17,398.37 321.43,397.48 322.7,397.5C324.43,397.52 326.17,399.23 327.9,400.9C330.93,403.82 333.97,406.59 337,406.8C340,407.01 343,404.7 346,403.5C347.87,402.75 349.73,402.43 351.6,402.5C354.4,402.6 357.2,403.57 360,405C363.6,406.84 367.2,409.46 370.8,411.5C377.23,415.15 383.67,416.96 390.1,416.9C396.07,416.84 402.03,415.17 408,413C413.9,410.85 419.8,408.22 425.7,407.4C430.47,406.74 435.23,407.26 440,407.8C444.4,408.29 448.8,408.8 453.2,409.3" fill="none" stroke="#b84848" stroke-width="1.8" stroke-linejoin="round" stroke-linecap="round"/>
<path d="M288.6,537.8C290.5,529.63 292.4,521.46 294.3,515.8C296.9,508.05 299.5,505 302.1,500.3C304.67,495.66 307.23,489.41 309.8,482.2C311.97,476.11 314.13,469.34 316.3,461.6C318.03,455.41 319.77,448.61 321.5,444.8C322.6,442.38 323.7,441.17 324.8,440.9C326.7,440.43 328.6,442.78 330.5,444.8C333.07,447.53 335.63,449.68 338.2,450C341.23,450.38 344.27,448.23 347.3,447.4C349.53,446.79 351.77,446.91 354,447.4C356.67,447.99 359.33,449.12 362,450.5C365.87,452.5 369.73,455 373.6,457C379.1,459.84 384.6,461.64 390.1,461.8C396.07,461.97 402.03,460.21 408,458C413.9,455.82 419.8,453.2 425.7,452.5C430.47,451.93 435.23,452.61 440,453.2C444.4,453.75 448.8,454.22 453.2,454.7" fill="none" stroke="#e07b2c" stroke-width="1.8" stroke-linejoin="round" stroke-linecap="round"/>
<path d="M295.6,564.9C297.33,559.65 299.07,554.41 300.8,549.4C303.37,541.99 305.93,535.1 308.5,528.7C310.67,523.3 312.83,518.24 315,510.7C316.73,504.67 318.47,497.06 320.2,492.6C321.9,488.23 323.6,486.88 325.3,486.6C327.47,486.24 329.63,487.59 331.8,489.2C333.93,490.78 336.07,492.61 338.2,493.1C341.23,493.8 344.27,491.79 347.3,491.3C349.53,490.94 351.77,491.39 354,492.1C356.67,492.94 359.33,494.14 362,495.5C365.87,497.47 369.73,499.77 373.6,501.7C379.1,504.45 384.6,506.44 390.1,506.6C396.73,506.8 403.37,504.33 410,502C416.17,499.84 422.33,497.79 428.5,497.3C432.33,497 436.17,497.29 440,497.6C444.4,497.95 448.8,498.33 453.2,498.7" fill="none" stroke="#f0b452" stroke-width="1.8" stroke-linejoin="round" stroke-linecap="round"/>
<path d="M313.7,564.9C315.87,557.68 318.03,550.46 320.2,544.2C322.33,538.04 324.47,532.81 326.6,530C327.9,528.29 329.2,527.48 330.5,527.5C333.07,527.54 335.63,530.81 338.2,532.6C341.67,535.01 345.13,534.72 348.6,535.2C354.17,535.98 359.73,538.77 365.3,541.6C369.53,543.76 373.77,545.94 378,547.5C382,548.98 386,549.9 390,550.5C393.33,551 396.67,551.27 400,550.8C404.67,550.14 409.33,548.01 414,546C418.83,543.92 423.67,541.97 428.5,541.3C432.33,540.77 436.17,541.05 440,541.3C444.4,541.59 448.8,541.84 453.2,542.1" fill="none" stroke="#2fd02f" stroke-width="1.8" stroke-linejoin="round" stroke-linecap="round"/>
<text x="449" y="361.3" class="bk" text-anchor="start" >Cu<tspan class="sub3" dy="2.2">2</tspan><tspan dy="-2.2">O bulk</tspan></text>
<text x="455.4" y="376.8" class="pv" text-anchor="start" textLength="48" lengthAdjust="spacingAndGlyphs">(12.&#160;&#160;&#160;&#160;6.0)</text>
<text x="455.4" y="421.7" class="pv" text-anchor="start" textLength="48" lengthAdjust="spacingAndGlyphs">(8.6&#160;&#160;&#160;3.1)</text>
<text x="455.4" y="467" class="pv" text-anchor="start" textLength="48" lengthAdjust="spacingAndGlyphs">(7.5&#160;&#160;&#160;2.4)</text>
<text x="455.4" y="512.3" class="pv" text-anchor="start" textLength="48" lengthAdjust="spacingAndGlyphs">(6.6&#160;&#160;&#160;1.8)</text>
<text x="455.4" y="557.7" class="pv" text-anchor="start" textLength="48" lengthAdjust="spacingAndGlyphs">(4.0&#160;&#160;&#160;0.6)</text>
<text x="3.7" y="616.2" class="pl" text-anchor="start" style="font-size:30px" textLength="11.3" lengthAdjust="spacingAndGlyphs">e</text>
<text transform="translate(17,852.4) rotate(-90)" class="yt" textLength="218.5" lengthAdjust="spacingAndGlyphs">Absorption Coefficient</text>
<rect x="27.9" y="617.8" width="229.1" height="246.2" fill="none" stroke="#2a2a2a" stroke-width="1.4"/>
<line x1="40.12" y1="617.8" x2="40.12" y2="620" stroke="#2a2a2a" stroke-width="1.2"/>
<line x1="40.12" y1="864" x2="40.12" y2="861.8" stroke="#2a2a2a" stroke-width="1.2"/>
<line x1="52.25" y1="617.8" x2="52.25" y2="620" stroke="#2a2a2a" stroke-width="1.2"/>
<line x1="52.25" y1="864" x2="52.25" y2="861.8" stroke="#2a2a2a" stroke-width="1.2"/>
<line x1="64.38" y1="617.8" x2="64.38" y2="620" stroke="#2a2a2a" stroke-width="1.2"/>
<line x1="64.38" y1="864" x2="64.38" y2="861.8" stroke="#2a2a2a" stroke-width="1.2"/>
<line x1="76.5" y1="617.8" x2="76.5" y2="621" stroke="#2a2a2a" stroke-width="1.2"/>
<line x1="76.5" y1="864" x2="76.5" y2="860.8" stroke="#2a2a2a" stroke-width="1.2"/>
<line x1="88.62" y1="617.8" x2="88.62" y2="620" stroke="#2a2a2a" stroke-width="1.2"/>
<line x1="88.62" y1="864" x2="88.62" y2="861.8" stroke="#2a2a2a" stroke-width="1.2"/>
<line x1="100.75" y1="617.8" x2="100.75" y2="620" stroke="#2a2a2a" stroke-width="1.2"/>
<line x1="100.75" y1="864" x2="100.75" y2="861.8" stroke="#2a2a2a" stroke-width="1.2"/>
<line x1="112.88" y1="617.8" x2="112.88" y2="620" stroke="#2a2a2a" stroke-width="1.2"/>
<line x1="112.88" y1="864" x2="112.88" y2="861.8" stroke="#2a2a2a" stroke-width="1.2"/>
<line x1="125" y1="617.8" x2="125" y2="621" stroke="#2a2a2a" stroke-width="1.2"/>
<line x1="125" y1="864" x2="125" y2="860.8" stroke="#2a2a2a" stroke-width="1.2"/>
<line x1="137.12" y1="617.8" x2="137.12" y2="620" stroke="#2a2a2a" stroke-width="1.2"/>
<line x1="137.12" y1="864" x2="137.12" y2="861.8" stroke="#2a2a2a" stroke-width="1.2"/>
<line x1="149.25" y1="617.8" x2="149.25" y2="620" stroke="#2a2a2a" stroke-width="1.2"/>
<line x1="149.25" y1="864" x2="149.25" y2="861.8" stroke="#2a2a2a" stroke-width="1.2"/>
<line x1="161.38" y1="617.8" x2="161.38" y2="620" stroke="#2a2a2a" stroke-width="1.2"/>
<line x1="161.38" y1="864" x2="161.38" y2="861.8" stroke="#2a2a2a" stroke-width="1.2"/>
<line x1="173.5" y1="617.8" x2="173.5" y2="621" stroke="#2a2a2a" stroke-width="1.2"/>
<line x1="173.5" y1="864" x2="173.5" y2="860.8" stroke="#2a2a2a" stroke-width="1.2"/>
<line x1="185.62" y1="617.8" x2="185.62" y2="620" stroke="#2a2a2a" stroke-width="1.2"/>
<line x1="185.62" y1="864" x2="185.62" y2="861.8" stroke="#2a2a2a" stroke-width="1.2"/>
<line x1="197.75" y1="617.8" x2="197.75" y2="620" stroke="#2a2a2a" stroke-width="1.2"/>
<line x1="197.75" y1="864" x2="197.75" y2="861.8" stroke="#2a2a2a" stroke-width="1.2"/>
<line x1="209.88" y1="617.8" x2="209.88" y2="620" stroke="#2a2a2a" stroke-width="1.2"/>
<line x1="209.88" y1="864" x2="209.88" y2="861.8" stroke="#2a2a2a" stroke-width="1.2"/>
<line x1="222" y1="617.8" x2="222" y2="621" stroke="#2a2a2a" stroke-width="1.2"/>
<line x1="222" y1="864" x2="222" y2="860.8" stroke="#2a2a2a" stroke-width="1.2"/>
<line x1="234.12" y1="617.8" x2="234.12" y2="620" stroke="#2a2a2a" stroke-width="1.2"/>
<line x1="234.12" y1="864" x2="234.12" y2="861.8" stroke="#2a2a2a" stroke-width="1.2"/>
<line x1="246.25" y1="617.8" x2="246.25" y2="620" stroke="#2a2a2a" stroke-width="1.2"/>
<line x1="246.25" y1="864" x2="246.25" y2="861.8" stroke="#2a2a2a" stroke-width="1.2"/>
<text x="28" y="881.2" class="tl" text-anchor="middle">8980</text>
<text x="76.5" y="881.2" class="tl" text-anchor="middle">9000</text>
<text x="125" y="881.2" class="tl" text-anchor="middle">9020</text>
<text x="173.5" y="881.2" class="tl" text-anchor="middle">9040</text>
<text x="222" y="881.2" class="tl" text-anchor="middle">9060</text>
<text x="138.8" y="900.8" class="et" text-anchor="middle" >Energy (eV)</text>
<path d="M37.9,628.8H47.1M42.5,628.8V681.8M37.9,681.8H47.1" stroke="#111" stroke-width="1.4" fill="none"/>
<text transform="translate(39.5,655.3) rotate(-90)" class="sb" text-anchor="middle">0.5</text>
<path d="M28,769.1C30.37,769.8 32.73,770.5 35.1,764C37.63,757.04 40.17,741.82 42.7,728.6C43.97,721.99 45.23,715.88 46.5,713.4C47.77,710.92 49.03,712.07 50.3,710.9C52.83,708.56 55.37,696.95 57.9,686.8C59.6,679.99 61.3,673.84 63,670.4C65.1,666.15 67.2,666.04 69.3,662.8C71.4,659.56 73.5,653.2 75.6,651.4C78.13,649.23 80.67,653.68 83.2,657.7C85.73,661.72 88.27,665.29 90.8,667.8C93.33,670.31 95.87,671.76 98.4,672.4C103.47,673.67 108.53,671.68 113.6,671.6C119.5,671.51 125.4,674.01 131.3,676.7C136.9,679.25 142.5,681.97 148.1,681.5C153.1,681.08 158.1,678.13 163.1,675.8C169.23,672.94 175.37,671.02 181.5,669.5C186.13,668.35 190.77,667.42 195.4,666.5" fill="none" stroke="#111111" stroke-width="1.8" stroke-linejoin="round" stroke-linecap="round"/>
<path d="M28,807.1C31.23,803.2 34.47,799.3 37.7,791.9C41.9,782.29 46.1,766.77 50.3,748.9C54.53,730.89 58.77,710.5 63,695.7C66.8,682.42 70.6,673.64 74.4,672.4C79.03,670.89 83.67,680.58 88.3,686.8C94.2,694.71 100.1,696.98 106,698.7C112.77,700.67 119.53,701.9 126.3,703.3C132.53,704.59 138.77,706.01 145,706.3C147.93,706.44 150.87,706.33 153.8,705.8C159.2,704.83 164.6,702.45 170,701.2C174.6,700.14 179.2,699.89 183.8,700C188.8,700.12 193.8,700.66 198.8,701.2" fill="none" stroke="#c04a4a" stroke-width="1.8" stroke-linejoin="round" stroke-linecap="round"/>
<path d="M28,832.4C32.07,821.92 36.13,811.44 40.2,802C44.4,792.25 48.6,783.61 52.8,766.6C56.2,752.83 59.6,733.58 63,721C66.8,706.94 70.6,701.19 74.4,700.8C79.03,700.32 83.67,707.79 88.3,713.4C94.2,720.55 100.1,724.68 106,727.3C112.77,730.3 119.53,731.31 126.3,732.4C133.57,733.57 140.83,734.83 148.1,734.2C153.1,733.76 158.1,732.43 163.1,731.2C169.23,729.69 175.37,728.33 181.5,727.7C187.27,727.11 193.03,727.15 198.8,727.2" fill="none" stroke="#e8802e" stroke-width="1.8" stroke-linejoin="round" stroke-linecap="round"/>
<path d="M28,862.8C32.9,844.55 37.8,826.3 42.7,812.2C45.23,804.91 47.77,798.73 50.3,790.6C53.67,779.8 57.03,765.56 60.4,753.9C62.27,747.43 64.13,741.76 66,738C67.33,735.31 68.67,733.61 70,732.5C71.87,730.95 73.73,730.58 75.6,731C77.07,731.33 78.53,732.15 80,733.5C81.93,735.28 83.87,737.97 85.8,740.3C90,745.36 94.2,748.7 98.4,751.4C101.77,753.57 105.13,755.32 108.5,756.5C114.43,758.57 120.37,758.85 126.3,759C132.53,759.16 138.77,759.2 145,759C151.03,758.81 157.07,758.41 163.1,757.7C168.47,757.07 173.83,756.2 179.2,755.9C185.73,755.54 192.27,756.02 198.8,756.5" fill="none" stroke="#f2b34a" stroke-width="1.8" stroke-linejoin="round" stroke-linecap="round"/>
<text x="195.8" y="674.2" class="eb" text-anchor="start" style="font-size:16px" textLength="29.2" lengthAdjust="spacingAndGlyphs">CuO</text>
<text x="228.5" y="674.2" class="eb" text-anchor="start" style="font-size:14.5px" textLength="26.2" lengthAdjust="spacingAndGlyphs">bulk</text>
<text x="206.9" y="704.2" class="eb" text-anchor="start" >Cu<tspan class="sub4" dy="2.5">12</tspan><tspan dy="-2.5">_1</tspan></text>
<text x="206.9" y="733.5" class="eb" text-anchor="start" >Cu<tspan class="sub4" dy="2.5">12</tspan><tspan dy="-2.5">_2</tspan></text>
<text x="216.2" y="764.2" class="eb" text-anchor="start" >Cu<tspan class="sub4" dy="2.5">4</tspan></text>
<text x="151.1" y="818.3" class="ex" text-anchor="middle" textLength="115.2" lengthAdjust="spacingAndGlyphs">CuO Experiment</text>
<text x="151.4" y="833.1" class="ex" text-anchor="middle" textLength="75.3" lengthAdjust="spacingAndGlyphs">Cu K&#8722;edge</text><defs>
<radialGradient id="gCu" cx="0.4" cy="0.38" r="0.68"><stop offset="0" stop-color="#ffff50"/><stop offset="0.28" stop-color="#ffe000"/><stop offset="0.6" stop-color="#f7a800"/><stop offset="0.85" stop-color="#e87800"/><stop offset="1" stop-color="#c05800"/></radialGradient>
<radialGradient id="gO" cx="0.4" cy="0.38" r="0.68"><stop offset="0" stop-color="#ff7a6a"/><stop offset="0.5" stop-color="#d84038"/><stop offset="1" stop-color="#902018"/></radialGradient>
<radialGradient id="gBlk" cx="0.38" cy="0.35" r="0.7"><stop offset="0" stop-color="#555"/><stop offset="0.5" stop-color="#111"/><stop offset="1" stop-color="#000"/></radialGradient>
<radialGradient id="gPur" cx="0.38" cy="0.35" r="0.7"><stop offset="0" stop-color="#d890d8"/><stop offset="0.5" stop-color="#a060a0"/><stop offset="1" stop-color="#704070"/></radialGradient>
<radialGradient id="gBlu" cx="0.38" cy="0.35" r="0.7"><stop offset="0" stop-color="#6060ff"/><stop offset="0.5" stop-color="#1010e0"/><stop offset="1" stop-color="#000090"/></radialGradient>
<radialGradient id="gGrn" cx="0.38" cy="0.35" r="0.7"><stop offset="0" stop-color="#90ff90"/><stop offset="0.5" stop-color="#20d020"/><stop offset="1" stop-color="#108010"/></radialGradient>
</defs><circle cx="118" cy="49.5" r="2.6" fill="url(#gO)"/>
<circle cx="130" cy="49.5" r="2.6" fill="url(#gO)"/>
<circle cx="142" cy="49.5" r="2.6" fill="url(#gO)"/>
<circle cx="154" cy="49.5" r="2.6" fill="url(#gO)"/>
<circle cx="166" cy="49.5" r="2.6" fill="url(#gO)"/>
<circle cx="178" cy="49.5" r="2.6" fill="url(#gO)"/>
<circle cx="109" cy="55.5" r="2.6" fill="url(#gO)"/>
<circle cx="121" cy="55.5" r="2.6" fill="url(#gO)"/>
<circle cx="133" cy="55.5" r="2.6" fill="url(#gO)"/>
<circle cx="145" cy="55.5" r="2.6" fill="url(#gO)"/>
<circle cx="157" cy="55.5" r="2.6" fill="url(#gO)"/>
<circle cx="169" cy="55.5" r="2.6" fill="url(#gO)"/>
<circle cx="181" cy="55.5" r="2.6" fill="url(#gO)"/>
<circle cx="112" cy="61.5" r="2.6" fill="url(#gO)"/>
<circle cx="124" cy="61.5" r="2.6" fill="url(#gO)"/>
<circle cx="136" cy="61.5" r="2.6" fill="url(#gO)"/>
<circle cx="148" cy="61.5" r="2.6" fill="url(#gO)"/>
<circle cx="160" cy="61.5" r="2.6" fill="url(#gO)"/>
<circle cx="172" cy="61.5" r="2.6" fill="url(#gO)"/>
<circle cx="184" cy="61.5" r="2.6" fill="url(#gO)"/>
<circle cx="103" cy="67.5" r="2.6" fill="url(#gO)"/>
<circle cx="115" cy="67.5" r="2.6" fill="url(#gO)"/>
<circle cx="127" cy="67.5" r="2.6" fill="url(#gO)"/>
<circle cx="139" cy="67.5" r="2.6" fill="url(#gO)"/>
<circle cx="151" cy="67.5" r="2.6" fill="url(#gO)"/>
<circle cx="163" cy="67.5" r="2.6" fill="url(#gO)"/>
<circle cx="175" cy="67.5" r="2.6" fill="url(#gO)"/>
<circle cx="187" cy="67.5" r="2.6" fill="url(#gO)"/>
<circle cx="106" cy="73.5" r="2.6" fill="url(#gO)"/>
<circle cx="118" cy="73.5" r="2.6" fill="url(#gO)"/>
<circle cx="130" cy="73.5" r="2.6" fill="url(#gO)"/>
<circle cx="142" cy="73.5" r="2.6" fill="url(#gO)"/>
<circle cx="154" cy="73.5" r="2.6" fill="url(#gO)"/>
<circle cx="166" cy="73.5" r="2.6" fill="url(#gO)"/>
<circle cx="178" cy="73.5" r="2.6" fill="url(#gO)"/>
<circle cx="190" cy="73.5" r="2.6" fill="url(#gO)"/>
<circle cx="109" cy="79.5" r="2.6" fill="url(#gO)"/>
<circle cx="121" cy="79.5" r="2.6" fill="url(#gO)"/>
<circle cx="133" cy="79.5" r="2.6" fill="url(#gO)"/>
<circle cx="145" cy="79.5" r="2.6" fill="url(#gO)"/>
<circle cx="157" cy="79.5" r="2.6" fill="url(#gO)"/>
<circle cx="169" cy="79.5" r="2.6" fill="url(#gO)"/>
<circle cx="181" cy="79.5" r="2.6" fill="url(#gO)"/>
<circle cx="112" cy="85.5" r="2.6" fill="url(#gO)"/>
<circle cx="124" cy="85.5" r="2.6" fill="url(#gO)"/>
<circle cx="136" cy="85.5" r="2.6" fill="url(#gO)"/>
<circle cx="148" cy="85.5" r="2.6" fill="url(#gO)"/>
<circle cx="160" cy="85.5" r="2.6" fill="url(#gO)"/>
<circle cx="172" cy="85.5" r="2.6" fill="url(#gO)"/>
<circle cx="184" cy="85.5" r="2.6" fill="url(#gO)"/>
<circle cx="115" cy="91.5" r="2.6" fill="url(#gO)"/>
<circle cx="127" cy="91.5" r="2.6" fill="url(#gO)"/>
<circle cx="139" cy="91.5" r="2.6" fill="url(#gO)"/>
<circle cx="151" cy="91.5" r="2.6" fill="url(#gO)"/>
<circle cx="163" cy="91.5" r="2.6" fill="url(#gO)"/>
<circle cx="175" cy="91.5" r="2.6" fill="url(#gO)"/>
<circle cx="118" cy="97.5" r="2.6" fill="url(#gO)"/>
<circle cx="130" cy="97.5" r="2.6" fill="url(#gO)"/>
<circle cx="142" cy="97.5" r="2.6" fill="url(#gO)"/>
<circle cx="154" cy="97.5" r="2.6" fill="url(#gO)"/>
<circle cx="166" cy="97.5" r="2.6" fill="url(#gO)"/>
<circle cx="178" cy="97.5" r="2.6" fill="url(#gO)"/>
<circle cx="133" cy="103.5" r="2.6" fill="url(#gO)"/>
<circle cx="145" cy="103.5" r="2.6" fill="url(#gO)"/>
<circle cx="157" cy="103.5" r="2.6" fill="url(#gO)"/>
<circle cx="169" cy="103.5" r="2.6" fill="url(#gO)"/>
<circle cx="136" cy="109.5" r="2.6" fill="url(#gO)"/>
<circle cx="148" cy="109.5" r="2.6" fill="url(#gO)"/>
<circle cx="160" cy="109.5" r="2.6" fill="url(#gO)"/>
<circle cx="139" cy="115.5" r="2.6" fill="url(#gO)"/>
<circle cx="151" cy="115.5" r="2.6" fill="url(#gO)"/>
<circle cx="163" cy="115.5" r="2.6" fill="url(#gO)"/>
<circle cx="112" cy="49.5" r="4.4" fill="url(#gCu)"/>
<circle cx="124" cy="49.5" r="4.4" fill="url(#gCu)"/>
<circle cx="136" cy="49.5" r="4.4" fill="url(#gCu)"/>
<circle cx="148" cy="49.5" r="4.4" fill="url(#gCu)"/>
<circle cx="160" cy="49.5" r="4.4" fill="url(#gCu)"/>
<circle cx="172" cy="49.5" r="4.4" fill="url(#gCu)"/>
<circle cx="184" cy="49.5" r="4.4" fill="url(#gCu)"/>
<circle cx="115" cy="55.5" r="4.4" fill="url(#gCu)"/>
<circle cx="127" cy="55.5" r="4.4" fill="url(#gCu)"/>
<circle cx="139" cy="55.5" r="4.4" fill="url(#gCu)"/>
<circle cx="151" cy="55.5" r="4.4" fill="url(#gCu)"/>
<circle cx="163" cy="55.5" r="4.4" fill="url(#gCu)"/>
<circle cx="175" cy="55.5" r="4.4" fill="url(#gCu)"/>
<circle cx="187" cy="55.5" r="4.4" fill="url(#gCu)"/>
<circle cx="106" cy="61.5" r="4.4" fill="url(#gCu)"/>
<circle cx="118" cy="61.5" r="4.4" fill="url(#gCu)"/>
<circle cx="130" cy="61.5" r="4.4" fill="url(#gCu)"/>
<circle cx="142" cy="61.5" r="4.4" fill="url(#gCu)"/>
<circle cx="154" cy="61.5" r="4.4" fill="url(#gCu)"/>
<circle cx="166" cy="61.5" r="4.4" fill="url(#gCu)"/>
<circle cx="178" cy="61.5" r="4.4" fill="url(#gCu)"/>
<circle cx="190" cy="61.5" r="4.4" fill="url(#gCu)"/>
<circle cx="109" cy="67.5" r="4.4" fill="url(#gCu)"/>
<circle cx="121" cy="67.5" r="4.4" fill="url(#gCu)"/>
<circle cx="133" cy="67.5" r="4.4" fill="url(#gCu)"/>
<circle cx="145" cy="67.5" r="4.4" fill="url(#gCu)"/>
<circle cx="157" cy="67.5" r="4.4" fill="url(#gCu)"/>
<circle cx="169" cy="67.5" r="4.4" fill="url(#gCu)"/>
<circle cx="181" cy="67.5" r="4.4" fill="url(#gCu)"/>
<circle cx="193" cy="67.5" r="4.4" fill="url(#gCu)"/>
<circle cx="112" cy="73.5" r="4.4" fill="url(#gCu)"/>
<circle cx="124" cy="73.5" r="4.4" fill="url(#gCu)"/>
<circle cx="136" cy="73.5" r="4.4" fill="url(#gCu)"/>
<circle cx="148" cy="73.5" r="4.4" fill="url(#gCu)"/>
<circle cx="160" cy="73.5" r="4.4" fill="url(#gCu)"/>
<circle cx="172" cy="73.5" r="4.4" fill="url(#gCu)"/>
<circle cx="184" cy="73.5" r="4.4" fill="url(#gCu)"/>
<circle cx="115" cy="79.5" r="4.4" fill="url(#gCu)"/>
<circle cx="127" cy="79.5" r="4.4" fill="url(#gCu)"/>
<circle cx="139" cy="79.5" r="4.4" fill="url(#gCu)"/>
<circle cx="151" cy="79.5" r="4.4" fill="url(#gCu)"/>
<circle cx="163" cy="79.5" r="4.4" fill="url(#gCu)"/>
<circle cx="175" cy="79.5" r="4.4" fill="url(#gCu)"/>
<circle cx="187" cy="79.5" r="4.4" fill="url(#gCu)"/>
<circle cx="118" cy="85.5" r="4.4" fill="url(#gCu)"/>
<circle cx="130" cy="85.5" r="4.4" fill="url(#gCu)"/>
<circle cx="142" cy="85.5" r="4.4" fill="url(#gCu)"/>
<circle cx="154" cy="85.5" r="4.4" fill="url(#gCu)"/>
<circle cx="166" cy="85.5" r="4.4" fill="url(#gCu)"/>
<circle cx="178" cy="85.5" r="4.4" fill="url(#gCu)"/>
<circle cx="121" cy="91.5" r="4.4" fill="url(#gCu)"/>
<circle cx="133" cy="91.5" r="4.4" fill="url(#gCu)"/>
<circle cx="145" cy="91.5" r="4.4" fill="url(#gCu)"/>
<circle cx="157" cy="91.5" r="4.4" fill="url(#gCu)"/>
<circle cx="169" cy="91.5" r="4.4" fill="url(#gCu)"/>
<circle cx="181" cy="91.5" r="4.4" fill="url(#gCu)"/>
<circle cx="124" cy="97.5" r="4.4" fill="url(#gCu)"/>
<circle cx="136" cy="97.5" r="4.4" fill="url(#gCu)"/>
<circle cx="148" cy="97.5" r="4.4" fill="url(#gCu)"/>
<circle cx="160" cy="97.5" r="4.4" fill="url(#gCu)"/>
<circle cx="172" cy="97.5" r="4.4" fill="url(#gCu)"/>
<circle cx="127" cy="103.5" r="4.4" fill="url(#gCu)"/>
<circle cx="139" cy="103.5" r="4.4" fill="url(#gCu)"/>
<circle cx="151" cy="103.5" r="4.4" fill="url(#gCu)"/>
<circle cx="163" cy="103.5" r="4.4" fill="url(#gCu)"/>
<circle cx="175" cy="103.5" r="4.4" fill="url(#gCu)"/>
<circle cx="130" cy="109.5" r="4.4" fill="url(#gCu)"/>
<circle cx="142" cy="109.5" r="4.4" fill="url(#gCu)"/>
<circle cx="154" cy="109.5" r="4.4" fill="url(#gCu)"/>
<circle cx="166" cy="109.5" r="4.4" fill="url(#gCu)"/>
<circle cx="133" cy="115.5" r="4.4" fill="url(#gCu)"/>
<circle cx="145" cy="115.5" r="4.4" fill="url(#gCu)"/>
<circle cx="157" cy="115.5" r="4.4" fill="url(#gCu)"/>
<circle cx="141" cy="88.5" r="3.6" fill="url(#gGrn)"/>
<circle cx="136.5" cy="96.5" r="5.2" fill="url(#gPur)"/>
<circle cx="148.5" cy="96" r="5.8" fill="url(#gBlu)"/>
<circle cx="136" cy="111" r="5.2" fill="url(#gBlk)"/>
<circle cx="378.9" cy="63" r="2.8" fill="url(#gO)"/>
<circle cx="391.7" cy="63" r="2.8" fill="url(#gO)"/>
<circle cx="404.5" cy="63" r="2.8" fill="url(#gO)"/>
<circle cx="417.3" cy="63" r="2.8" fill="url(#gO)"/>
<circle cx="430.1" cy="63" r="2.8" fill="url(#gO)"/>
<circle cx="369.3" cy="70.2" r="2.8" fill="url(#gO)"/>
<circle cx="382.1" cy="70.2" r="2.8" fill="url(#gO)"/>
<circle cx="394.9" cy="70.2" r="2.8" fill="url(#gO)"/>
<circle cx="407.7" cy="70.2" r="2.8" fill="url(#gO)"/>
<circle cx="420.5" cy="70.2" r="2.8" fill="url(#gO)"/>
<circle cx="433.3" cy="70.2" r="2.8" fill="url(#gO)"/>
<circle cx="372.5" cy="77.4" r="2.8" fill="url(#gO)"/>
<circle cx="385.3" cy="77.4" r="2.8" fill="url(#gO)"/>
<circle cx="398.1" cy="77.4" r="2.8" fill="url(#gO)"/>
<circle cx="410.9" cy="77.4" r="2.8" fill="url(#gO)"/>
<circle cx="423.7" cy="77.4" r="2.8" fill="url(#gO)"/>
<circle cx="436.5" cy="77.4" r="2.8" fill="url(#gO)"/>
<circle cx="449.3" cy="77.4" r="2.8" fill="url(#gO)"/>
<circle cx="375.7" cy="84.6" r="2.8" fill="url(#gO)"/>
<circle cx="388.5" cy="84.6" r="2.8" fill="url(#gO)"/>
<circle cx="401.3" cy="84.6" r="2.8" fill="url(#gO)"/>
<circle cx="414.1" cy="84.6" r="2.8" fill="url(#gO)"/>
<circle cx="426.9" cy="84.6" r="2.8" fill="url(#gO)"/>
<circle cx="439.7" cy="84.6" r="2.8" fill="url(#gO)"/>
<circle cx="378.9" cy="91.8" r="2.8" fill="url(#gO)"/>
<circle cx="391.7" cy="91.8" r="2.8" fill="url(#gO)"/>
<circle cx="404.5" cy="91.8" r="2.8" fill="url(#gO)"/>
<circle cx="417.3" cy="91.8" r="2.8" fill="url(#gO)"/>
<circle cx="430.1" cy="91.8" r="2.8" fill="url(#gO)"/>
<circle cx="382.1" cy="99" r="2.8" fill="url(#gO)"/>
<circle cx="394.9" cy="99" r="2.8" fill="url(#gO)"/>
<circle cx="407.7" cy="99" r="2.8" fill="url(#gO)"/>
<circle cx="420.5" cy="99" r="2.8" fill="url(#gO)"/>
<circle cx="433.3" cy="99" r="2.8" fill="url(#gO)"/>
<circle cx="385.3" cy="106.2" r="2.8" fill="url(#gO)"/>
<circle cx="398.1" cy="106.2" r="2.8" fill="url(#gO)"/>
<circle cx="410.9" cy="106.2" r="2.8" fill="url(#gO)"/>
<circle cx="423.7" cy="106.2" r="2.8" fill="url(#gO)"/>
<circle cx="388.5" cy="113.4" r="2.8" fill="url(#gO)"/>
<circle cx="401.3" cy="113.4" r="2.8" fill="url(#gO)"/>
<circle cx="414.1" cy="113.4" r="2.8" fill="url(#gO)"/>
<circle cx="426.9" cy="113.4" r="2.8" fill="url(#gO)"/>
<circle cx="372.5" cy="63" r="5.2" fill="url(#gCu)"/>
<circle cx="385.3" cy="63" r="5.2" fill="url(#gCu)"/>
<circle cx="398.1" cy="63" r="5.2" fill="url(#gCu)"/>
<circle cx="410.9" cy="63" r="5.2" fill="url(#gCu)"/>
<circle cx="423.7" cy="63" r="5.2" fill="url(#gCu)"/>
<circle cx="436.5" cy="63" r="5.2" fill="url(#gCu)"/>
<circle cx="375.7" cy="70.2" r="5.2" fill="url(#gCu)"/>
<circle cx="388.5" cy="70.2" r="5.2" fill="url(#gCu)"/>
<circle cx="401.3" cy="70.2" r="5.2" fill="url(#gCu)"/>
<circle cx="414.1" cy="70.2" r="5.2" fill="url(#gCu)"/>
<circle cx="426.9" cy="70.2" r="5.2" fill="url(#gCu)"/>
<circle cx="439.7" cy="70.2" r="5.2" fill="url(#gCu)"/>
<circle cx="366.1" cy="77.4" r="5.2" fill="url(#gCu)"/>
<circle cx="378.9" cy="77.4" r="5.2" fill="url(#gCu)"/>
<circle cx="391.7" cy="77.4" r="5.2" fill="url(#gCu)"/>
<circle cx="404.5" cy="77.4" r="5.2" fill="url(#gCu)"/>
<circle cx="417.3" cy="77.4" r="5.2" fill="url(#gCu)"/>
<circle cx="430.1" cy="77.4" r="5.2" fill="url(#gCu)"/>
<circle cx="442.9" cy="77.4" r="5.2" fill="url(#gCu)"/>
<circle cx="369.3" cy="84.6" r="5.2" fill="url(#gCu)"/>
<circle cx="382.1" cy="84.6" r="5.2" fill="url(#gCu)"/>
<circle cx="394.9" cy="84.6" r="5.2" fill="url(#gCu)"/>
<circle cx="407.7" cy="84.6" r="5.2" fill="url(#gCu)"/>
<circle cx="420.5" cy="84.6" r="5.2" fill="url(#gCu)"/>
<circle cx="433.3" cy="84.6" r="5.2" fill="url(#gCu)"/>
<circle cx="446.1" cy="84.6" r="5.2" fill="url(#gCu)"/>
<circle cx="372.5" cy="91.8" r="5.2" fill="url(#gCu)"/>
<circle cx="385.3" cy="91.8" r="5.2" fill="url(#gCu)"/>
<circle cx="398.1" cy="91.8" r="5.2" fill="url(#gCu)"/>
<circle cx="410.9" cy="91.8" r="5.2" fill="url(#gCu)"/>
<circle cx="423.7" cy="91.8" r="5.2" fill="url(#gCu)"/>
<circle cx="436.5" cy="91.8" r="5.2" fill="url(#gCu)"/>
<circle cx="375.7" cy="99" r="5.2" fill="url(#gCu)"/>
<circle cx="388.5" cy="99" r="5.2" fill="url(#gCu)"/>
<circle cx="401.3" cy="99" r="5.2" fill="url(#gCu)"/>
<circle cx="414.1" cy="99" r="5.2" fill="url(#gCu)"/>
<circle cx="426.9" cy="99" r="5.2" fill="url(#gCu)"/>
<circle cx="378.9" cy="106.2" r="5.2" fill="url(#gCu)"/>
<circle cx="391.7" cy="106.2" r="5.2" fill="url(#gCu)"/>
<circle cx="404.5" cy="106.2" r="5.2" fill="url(#gCu)"/>
<circle cx="417.3" cy="106.2" r="5.2" fill="url(#gCu)"/>
<circle cx="430.1" cy="106.2" r="5.2" fill="url(#gCu)"/>
<circle cx="382.1" cy="113.4" r="5.2" fill="url(#gCu)"/>
<circle cx="394.9" cy="113.4" r="5.2" fill="url(#gCu)"/>
<circle cx="407.7" cy="113.4" r="5.2" fill="url(#gCu)"/>
<circle cx="420.5" cy="113.4" r="5.2" fill="url(#gCu)"/>
<circle cx="398.7" cy="84.8" r="3.6" fill="url(#gGrn)"/>
<circle cx="392.3" cy="94" r="5.3" fill="url(#gPur)"/>
<circle cx="406" cy="94" r="6" fill="url(#gBlu)"/>
<circle cx="392.3" cy="108.8" r="5.5" fill="url(#gBlk)"/>
<polygon points="212.5,375 239.4,375 248.5,388.7 226.3,408.5 204.5,389.4" fill="#e07a00" stroke="#e07a00" stroke-width="1.52" stroke-linejoin="round"/>
<circle cx="216" cy="376.5" r="1.3" fill="url(#gO)"/>
<circle cx="222" cy="376.5" r="1.3" fill="url(#gO)"/>
<circle cx="228" cy="376.5" r="1.3" fill="url(#gO)"/>
<circle cx="234" cy="376.5" r="1.3" fill="url(#gO)"/>
<circle cx="240" cy="376.5" r="1.3" fill="url(#gO)"/>
<circle cx="211.5" cy="379.5" r="1.3" fill="url(#gO)"/>
<circle cx="217.5" cy="379.5" r="1.3" fill="url(#gO)"/>
<circle cx="223.5" cy="379.5" r="1.3" fill="url(#gO)"/>
<circle cx="229.5" cy="379.5" r="1.3" fill="url(#gO)"/>
<circle cx="235.5" cy="379.5" r="1.3" fill="url(#gO)"/>
<circle cx="241.5" cy="379.5" r="1.3" fill="url(#gO)"/>
<circle cx="213" cy="382.5" r="1.3" fill="url(#gO)"/>
<circle cx="219" cy="382.5" r="1.3" fill="url(#gO)"/>
<circle cx="225" cy="382.5" r="1.3" fill="url(#gO)"/>
<circle cx="231" cy="382.5" r="1.3" fill="url(#gO)"/>
<circle cx="237" cy="382.5" r="1.3" fill="url(#gO)"/>
<circle cx="243" cy="382.5" r="1.3" fill="url(#gO)"/>
<circle cx="208.5" cy="385.5" r="1.3" fill="url(#gO)"/>
<circle cx="214.5" cy="385.5" r="1.3" fill="url(#gO)"/>
<circle cx="220.5" cy="385.5" r="1.3" fill="url(#gO)"/>
<circle cx="226.5" cy="385.5" r="1.3" fill="url(#gO)"/>
<circle cx="232.5" cy="385.5" r="1.3" fill="url(#gO)"/>
<circle cx="238.5" cy="385.5" r="1.3" fill="url(#gO)"/>
<circle cx="244.5" cy="385.5" r="1.3" fill="url(#gO)"/>
<circle cx="210" cy="388.5" r="1.3" fill="url(#gO)"/>
<circle cx="216" cy="388.5" r="1.3" fill="url(#gO)"/>
<circle cx="222" cy="388.5" r="1.3" fill="url(#gO)"/>
<circle cx="228" cy="388.5" r="1.3" fill="url(#gO)"/>
<circle cx="234" cy="388.5" r="1.3" fill="url(#gO)"/>
<circle cx="240" cy="388.5" r="1.3" fill="url(#gO)"/>
<circle cx="246" cy="388.5" r="1.3" fill="url(#gO)"/>
<circle cx="211.5" cy="391.5" r="1.3" fill="url(#gO)"/>
<circle cx="217.5" cy="391.5" r="1.3" fill="url(#gO)"/>
<circle cx="223.5" cy="391.5" r="1.3" fill="url(#gO)"/>
<circle cx="229.5" cy="391.5" r="1.3" fill="url(#gO)"/>
<circle cx="235.5" cy="391.5" r="1.3" fill="url(#gO)"/>
<circle cx="241.5" cy="391.5" r="1.3" fill="url(#gO)"/>
<circle cx="213" cy="394.5" r="1.3" fill="url(#gO)"/>
<circle cx="219" cy="394.5" r="1.3" fill="url(#gO)"/>
<circle cx="225" cy="394.5" r="1.3" fill="url(#gO)"/>
<circle cx="231" cy="394.5" r="1.3" fill="url(#gO)"/>
<circle cx="237" cy="394.5" r="1.3" fill="url(#gO)"/>
<circle cx="214.5" cy="397.5" r="1.3" fill="url(#gO)"/>
<circle cx="220.5" cy="397.5" r="1.3" fill="url(#gO)"/>
<circle cx="226.5" cy="397.5" r="1.3" fill="url(#gO)"/>
<circle cx="232.5" cy="397.5" r="1.3" fill="url(#gO)"/>
<circle cx="238.5" cy="397.5" r="1.3" fill="url(#gO)"/>
<circle cx="222" cy="400.5" r="1.3" fill="url(#gO)"/>
<circle cx="228" cy="400.5" r="1.3" fill="url(#gO)"/>
<circle cx="234" cy="400.5" r="1.3" fill="url(#gO)"/>
<circle cx="223.5" cy="403.5" r="1.3" fill="url(#gO)"/>
<circle cx="229.5" cy="403.5" r="1.3" fill="url(#gO)"/>
<circle cx="225" cy="406.5" r="1.3" fill="url(#gO)"/>
<circle cx="213" cy="376.5" r="1.9" fill="url(#gCu)"/>
<circle cx="219" cy="376.5" r="1.9" fill="url(#gCu)"/>
<circle cx="225" cy="376.5" r="1.9" fill="url(#gCu)"/>
<circle cx="231" cy="376.5" r="1.9" fill="url(#gCu)"/>
<circle cx="237" cy="376.5" r="1.9" fill="url(#gCu)"/>
<circle cx="214.5" cy="379.5" r="1.9" fill="url(#gCu)"/>
<circle cx="220.5" cy="379.5" r="1.9" fill="url(#gCu)"/>
<circle cx="226.5" cy="379.5" r="1.9" fill="url(#gCu)"/>
<circle cx="232.5" cy="379.5" r="1.9" fill="url(#gCu)"/>
<circle cx="238.5" cy="379.5" r="1.9" fill="url(#gCu)"/>
<circle cx="210" cy="382.5" r="1.9" fill="url(#gCu)"/>
<circle cx="216" cy="382.5" r="1.9" fill="url(#gCu)"/>
<circle cx="222" cy="382.5" r="1.9" fill="url(#gCu)"/>
<circle cx="228" cy="382.5" r="1.9" fill="url(#gCu)"/>
<circle cx="234" cy="382.5" r="1.9" fill="url(#gCu)"/>
<circle cx="240" cy="382.5" r="1.9" fill="url(#gCu)"/>
<circle cx="211.5" cy="385.5" r="1.9" fill="url(#gCu)"/>
<circle cx="217.5" cy="385.5" r="1.9" fill="url(#gCu)"/>
<circle cx="223.5" cy="385.5" r="1.9" fill="url(#gCu)"/>
<circle cx="229.5" cy="385.5" r="1.9" fill="url(#gCu)"/>
<circle cx="235.5" cy="385.5" r="1.9" fill="url(#gCu)"/>
<circle cx="241.5" cy="385.5" r="1.9" fill="url(#gCu)"/>
<circle cx="207" cy="388.5" r="1.9" fill="url(#gCu)"/>
<circle cx="213" cy="388.5" r="1.9" fill="url(#gCu)"/>
<circle cx="219" cy="388.5" r="1.9" fill="url(#gCu)"/>
<circle cx="225" cy="388.5" r="1.9" fill="url(#gCu)"/>
<circle cx="231" cy="388.5" r="1.9" fill="url(#gCu)"/>
<circle cx="237" cy="388.5" r="1.9" fill="url(#gCu)"/>
<circle cx="243" cy="388.5" r="1.9" fill="url(#gCu)"/>
<circle cx="208.5" cy="391.5" r="1.9" fill="url(#gCu)"/>
<circle cx="214.5" cy="391.5" r="1.9" fill="url(#gCu)"/>
<circle cx="220.5" cy="391.5" r="1.9" fill="url(#gCu)"/>
<circle cx="226.5" cy="391.5" r="1.9" fill="url(#gCu)"/>
<circle cx="232.5" cy="391.5" r="1.9" fill="url(#gCu)"/>
<circle cx="238.5" cy="391.5" r="1.9" fill="url(#gCu)"/>
<circle cx="244.5" cy="391.5" r="1.9" fill="url(#gCu)"/>
<circle cx="216" cy="394.5" r="1.9" fill="url(#gCu)"/>
<circle cx="222" cy="394.5" r="1.9" fill="url(#gCu)"/>
<circle cx="228" cy="394.5" r="1.9" fill="url(#gCu)"/>
<circle cx="234" cy="394.5" r="1.9" fill="url(#gCu)"/>
<circle cx="240" cy="394.5" r="1.9" fill="url(#gCu)"/>
<circle cx="217.5" cy="397.5" r="1.9" fill="url(#gCu)"/>
<circle cx="223.5" cy="397.5" r="1.9" fill="url(#gCu)"/>
<circle cx="229.5" cy="397.5" r="1.9" fill="url(#gCu)"/>
<circle cx="235.5" cy="397.5" r="1.9" fill="url(#gCu)"/>
<circle cx="219" cy="400.5" r="1.9" fill="url(#gCu)"/>
<circle cx="225" cy="400.5" r="1.9" fill="url(#gCu)"/>
<circle cx="231" cy="400.5" r="1.9" fill="url(#gCu)"/>
<circle cx="226.5" cy="403.5" r="1.9" fill="url(#gCu)"/>
<circle cx="228" cy="406.5" r="1.9" fill="url(#gCu)"/>
<polygon points="211.2,425 241.9,425 247.3,434.4 231.25,451 221.9,451 206.4,434.4" fill="#e07a00" stroke="#e07a00" stroke-width="1.52" stroke-linejoin="round"/>
<circle cx="215" cy="426.5" r="1.3" fill="url(#gO)"/>
<circle cx="221" cy="426.5" r="1.3" fill="url(#gO)"/>
<circle cx="227" cy="426.5" r="1.3" fill="url(#gO)"/>
<circle cx="233" cy="426.5" r="1.3" fill="url(#gO)"/>
<circle cx="239" cy="426.5" r="1.3" fill="url(#gO)"/>
<circle cx="210.5" cy="429.5" r="1.3" fill="url(#gO)"/>
<circle cx="216.5" cy="429.5" r="1.3" fill="url(#gO)"/>
<circle cx="222.5" cy="429.5" r="1.3" fill="url(#gO)"/>
<circle cx="228.5" cy="429.5" r="1.3" fill="url(#gO)"/>
<circle cx="234.5" cy="429.5" r="1.3" fill="url(#gO)"/>
<circle cx="240.5" cy="429.5" r="1.3" fill="url(#gO)"/>
<circle cx="212" cy="432.5" r="1.3" fill="url(#gO)"/>
<circle cx="218" cy="432.5" r="1.3" fill="url(#gO)"/>
<circle cx="224" cy="432.5" r="1.3" fill="url(#gO)"/>
<circle cx="230" cy="432.5" r="1.3" fill="url(#gO)"/>
<circle cx="236" cy="432.5" r="1.3" fill="url(#gO)"/>
<circle cx="242" cy="432.5" r="1.3" fill="url(#gO)"/>
<circle cx="207.5" cy="435.5" r="1.3" fill="url(#gO)"/>
<circle cx="213.5" cy="435.5" r="1.3" fill="url(#gO)"/>
<circle cx="219.5" cy="435.5" r="1.3" fill="url(#gO)"/>
<circle cx="225.5" cy="435.5" r="1.3" fill="url(#gO)"/>
<circle cx="231.5" cy="435.5" r="1.3" fill="url(#gO)"/>
<circle cx="237.5" cy="435.5" r="1.3" fill="url(#gO)"/>
<circle cx="243.5" cy="435.5" r="1.3" fill="url(#gO)"/>
<circle cx="215" cy="438.5" r="1.3" fill="url(#gO)"/>
<circle cx="221" cy="438.5" r="1.3" fill="url(#gO)"/>
<circle cx="227" cy="438.5" r="1.3" fill="url(#gO)"/>
<circle cx="233" cy="438.5" r="1.3" fill="url(#gO)"/>
<circle cx="239" cy="438.5" r="1.3" fill="url(#gO)"/>
<circle cx="216.5" cy="441.5" r="1.3" fill="url(#gO)"/>
<circle cx="222.5" cy="441.5" r="1.3" fill="url(#gO)"/>
<circle cx="228.5" cy="441.5" r="1.3" fill="url(#gO)"/>
<circle cx="234.5" cy="441.5" r="1.3" fill="url(#gO)"/>
<circle cx="218" cy="444.5" r="1.3" fill="url(#gO)"/>
<circle cx="224" cy="444.5" r="1.3" fill="url(#gO)"/>
<circle cx="230" cy="444.5" r="1.3" fill="url(#gO)"/>
<circle cx="236" cy="444.5" r="1.3" fill="url(#gO)"/>
<circle cx="219.5" cy="447.5" r="1.3" fill="url(#gO)"/>
<circle cx="225.5" cy="447.5" r="1.3" fill="url(#gO)"/>
<circle cx="231.5" cy="447.5" r="1.3" fill="url(#gO)"/>
<circle cx="227" cy="450.5" r="1.3" fill="url(#gO)"/>
<circle cx="212" cy="426.5" r="1.9" fill="url(#gCu)"/>
<circle cx="218" cy="426.5" r="1.9" fill="url(#gCu)"/>
<circle cx="224" cy="426.5" r="1.9" fill="url(#gCu)"/>
<circle cx="230" cy="426.5" r="1.9" fill="url(#gCu)"/>
<circle cx="236" cy="426.5" r="1.9" fill="url(#gCu)"/>
<circle cx="242" cy="426.5" r="1.9" fill="url(#gCu)"/>
<circle cx="213.5" cy="429.5" r="1.9" fill="url(#gCu)"/>
<circle cx="219.5" cy="429.5" r="1.9" fill="url(#gCu)"/>
<circle cx="225.5" cy="429.5" r="1.9" fill="url(#gCu)"/>
<circle cx="231.5" cy="429.5" r="1.9" fill="url(#gCu)"/>
<circle cx="237.5" cy="429.5" r="1.9" fill="url(#gCu)"/>
<circle cx="243.5" cy="429.5" r="1.9" fill="url(#gCu)"/>
<circle cx="209" cy="432.5" r="1.9" fill="url(#gCu)"/>
<circle cx="215" cy="432.5" r="1.9" fill="url(#gCu)"/>
<circle cx="221" cy="432.5" r="1.9" fill="url(#gCu)"/>
<circle cx="227" cy="432.5" r="1.9" fill="url(#gCu)"/>
<circle cx="233" cy="432.5" r="1.9" fill="url(#gCu)"/>
<circle cx="239" cy="432.5" r="1.9" fill="url(#gCu)"/>
<circle cx="245" cy="432.5" r="1.9" fill="url(#gCu)"/>
<circle cx="210.5" cy="435.5" r="1.9" fill="url(#gCu)"/>
<circle cx="216.5" cy="435.5" r="1.9" fill="url(#gCu)"/>
<circle cx="222.5" cy="435.5" r="1.9" fill="url(#gCu)"/>
<circle cx="228.5" cy="435.5" r="1.9" fill="url(#gCu)"/>
<circle cx="234.5" cy="435.5" r="1.9" fill="url(#gCu)"/>
<circle cx="240.5" cy="435.5" r="1.9" fill="url(#gCu)"/>
<circle cx="212" cy="438.5" r="1.9" fill="url(#gCu)"/>
<circle cx="218" cy="438.5" r="1.9" fill="url(#gCu)"/>
<circle cx="224" cy="438.5" r="1.9" fill="url(#gCu)"/>
<circle cx="230" cy="438.5" r="1.9" fill="url(#gCu)"/>
<circle cx="236" cy="438.5" r="1.9" fill="url(#gCu)"/>
<circle cx="242" cy="438.5" r="1.9" fill="url(#gCu)"/>
<circle cx="213.5" cy="441.5" r="1.9" fill="url(#gCu)"/>
<circle cx="219.5" cy="441.5" r="1.9" fill="url(#gCu)"/>
<circle cx="225.5" cy="441.5" r="1.9" fill="url(#gCu)"/>
<circle cx="231.5" cy="441.5" r="1.9" fill="url(#gCu)"/>
<circle cx="237.5" cy="441.5" r="1.9" fill="url(#gCu)"/>
<circle cx="221" cy="444.5" r="1.9" fill="url(#gCu)"/>
<circle cx="227" cy="444.5" r="1.9" fill="url(#gCu)"/>
<circle cx="233" cy="444.5" r="1.9" fill="url(#gCu)"/>
<circle cx="222.5" cy="447.5" r="1.9" fill="url(#gCu)"/>
<circle cx="228.5" cy="447.5" r="1.9" fill="url(#gCu)"/>
<circle cx="234.5" cy="447.5" r="1.9" fill="url(#gCu)"/>
<circle cx="224" cy="450.5" r="1.9" fill="url(#gCu)"/>
<circle cx="230" cy="450.5" r="1.9" fill="url(#gCu)"/>
<polygon points="213,471.5 238.75,471.5 246,483 229.4,500 225.6,494.5 221.9,500 207,483" fill="#e07a00" stroke="#e07a00" stroke-width="2" stroke-linejoin="round"/>
<circle cx="218" cy="473.5" r="1.6" fill="url(#gO)"/>
<circle cx="226" cy="473.5" r="1.6" fill="url(#gO)"/>
<circle cx="234" cy="473.5" r="1.6" fill="url(#gO)"/>
<circle cx="212" cy="477.5" r="1.6" fill="url(#gO)"/>
<circle cx="220" cy="477.5" r="1.6" fill="url(#gO)"/>
<circle cx="228" cy="477.5" r="1.6" fill="url(#gO)"/>
<circle cx="236" cy="477.5" r="1.6" fill="url(#gO)"/>
<circle cx="214" cy="481.5" r="1.6" fill="url(#gO)"/>
<circle cx="222" cy="481.5" r="1.6" fill="url(#gO)"/>
<circle cx="230" cy="481.5" r="1.6" fill="url(#gO)"/>
<circle cx="238" cy="481.5" r="1.6" fill="url(#gO)"/>
<circle cx="216" cy="485.5" r="1.6" fill="url(#gO)"/>
<circle cx="224" cy="485.5" r="1.6" fill="url(#gO)"/>
<circle cx="232" cy="485.5" r="1.6" fill="url(#gO)"/>
<circle cx="240" cy="485.5" r="1.6" fill="url(#gO)"/>
<circle cx="218" cy="489.5" r="1.6" fill="url(#gO)"/>
<circle cx="226" cy="489.5" r="1.6" fill="url(#gO)"/>
<circle cx="234" cy="489.5" r="1.6" fill="url(#gO)"/>
<circle cx="220" cy="493.5" r="1.6" fill="url(#gO)"/>
<circle cx="228" cy="493.5" r="1.6" fill="url(#gO)"/>
<circle cx="222" cy="497.5" r="1.6" fill="url(#gO)"/>
<circle cx="230" cy="497.5" r="1.6" fill="url(#gO)"/>
<circle cx="214" cy="473.5" r="2.5" fill="url(#gCu)"/>
<circle cx="222" cy="473.5" r="2.5" fill="url(#gCu)"/>
<circle cx="230" cy="473.5" r="2.5" fill="url(#gCu)"/>
<circle cx="238" cy="473.5" r="2.5" fill="url(#gCu)"/>
<circle cx="216" cy="477.5" r="2.5" fill="url(#gCu)"/>
<circle cx="224" cy="477.5" r="2.5" fill="url(#gCu)"/>
<circle cx="232" cy="477.5" r="2.5" fill="url(#gCu)"/>
<circle cx="240" cy="477.5" r="2.5" fill="url(#gCu)"/>
<circle cx="210" cy="481.5" r="2.5" fill="url(#gCu)"/>
<circle cx="218" cy="481.5" r="2.5" fill="url(#gCu)"/>
<circle cx="226" cy="481.5" r="2.5" fill="url(#gCu)"/>
<circle cx="234" cy="481.5" r="2.5" fill="url(#gCu)"/>
<circle cx="242" cy="481.5" r="2.5" fill="url(#gCu)"/>
<circle cx="212" cy="485.5" r="2.5" fill="url(#gCu)"/>
<circle cx="220" cy="485.5" r="2.5" fill="url(#gCu)"/>
<circle cx="228" cy="485.5" r="2.5" fill="url(#gCu)"/>
<circle cx="236" cy="485.5" r="2.5" fill="url(#gCu)"/>
<circle cx="214" cy="489.5" r="2.5" fill="url(#gCu)"/>
<circle cx="222" cy="489.5" r="2.5" fill="url(#gCu)"/>
<circle cx="230" cy="489.5" r="2.5" fill="url(#gCu)"/>
<circle cx="238" cy="489.5" r="2.5" fill="url(#gCu)"/>
<circle cx="224" cy="493.5" r="2.5" fill="url(#gCu)"/>
<circle cx="232" cy="493.5" r="2.5" fill="url(#gCu)"/>
<polygon points="216.9,523.5 238.75,523.5 243,531.25 231.25,545.5 227.2,540.5 223.1,545.5 212,531.25" fill="#e07a00" stroke="#e07a00" stroke-width="2.56" stroke-linejoin="round"/>
<circle cx="223" cy="525.5" r="1.9" fill="url(#gO)"/>
<circle cx="233" cy="525.5" r="1.9" fill="url(#gO)"/>
<circle cx="215.5" cy="530.5" r="1.9" fill="url(#gO)"/>
<circle cx="225.5" cy="530.5" r="1.9" fill="url(#gO)"/>
<circle cx="235.5" cy="530.5" r="1.9" fill="url(#gO)"/>
<circle cx="218" cy="535.5" r="1.9" fill="url(#gO)"/>
<circle cx="228" cy="535.5" r="1.9" fill="url(#gO)"/>
<circle cx="238" cy="535.5" r="1.9" fill="url(#gO)"/>
<circle cx="220.5" cy="540.5" r="1.9" fill="url(#gO)"/>
<circle cx="230.5" cy="540.5" r="1.9" fill="url(#gO)"/>
<circle cx="218" cy="525.5" r="3.2" fill="url(#gCu)"/>
<circle cx="228" cy="525.5" r="3.2" fill="url(#gCu)"/>
<circle cx="238" cy="525.5" r="3.2" fill="url(#gCu)"/>
<circle cx="220.5" cy="530.5" r="3.2" fill="url(#gCu)"/>
<circle cx="230.5" cy="530.5" r="3.2" fill="url(#gCu)"/>
<circle cx="240.5" cy="530.5" r="3.2" fill="url(#gCu)"/>
<circle cx="223" cy="535.5" r="3.2" fill="url(#gCu)"/>
<circle cx="233" cy="535.5" r="3.2" fill="url(#gCu)"/>
<circle cx="225.5" cy="540.5" r="3.2" fill="url(#gCu)"/>
<polygon points="468.75,380 493.1,380 502.8,393.75 491.25,409.5 471.9,409.5 459,393.75" fill="#e58800" stroke="#e58800" stroke-width="2.08" stroke-linejoin="round"/>
<circle cx="470" cy="382" r="1.6" fill="url(#gO)"/>
<circle cx="482.6" cy="382" r="1.6" fill="url(#gO)"/>
<circle cx="465.8" cy="389.4" r="1.6" fill="url(#gO)"/>
<circle cx="478.4" cy="389.4" r="1.6" fill="url(#gO)"/>
<circle cx="491" cy="389.4" r="1.6" fill="url(#gO)"/>
<circle cx="461.6" cy="396.8" r="1.6" fill="url(#gO)"/>
<circle cx="474.2" cy="396.8" r="1.6" fill="url(#gO)"/>
<circle cx="486.8" cy="396.8" r="1.6" fill="url(#gO)"/>
<circle cx="499.4" cy="396.8" r="1.6" fill="url(#gO)"/>
<circle cx="470" cy="404.2" r="1.6" fill="url(#gO)"/>
<circle cx="482.6" cy="404.2" r="1.6" fill="url(#gO)"/>
<circle cx="474.2" cy="382" r="2.6" fill="url(#gCu)"/>
<circle cx="478.4" cy="382" r="2.6" fill="url(#gCu)"/>
<circle cx="486.8" cy="382" r="2.6" fill="url(#gCu)"/>
<circle cx="491" cy="382" r="2.6" fill="url(#gCu)"/>
<circle cx="467.9" cy="385.7" r="2.6" fill="url(#gCu)"/>
<circle cx="472.1" cy="385.7" r="2.6" fill="url(#gCu)"/>
<circle cx="476.3" cy="385.7" r="2.6" fill="url(#gCu)"/>
<circle cx="480.5" cy="385.7" r="2.6" fill="url(#gCu)"/>
<circle cx="484.7" cy="385.7" r="2.6" fill="url(#gCu)"/>
<circle cx="488.9" cy="385.7" r="2.6" fill="url(#gCu)"/>
<circle cx="493.1" cy="385.7" r="2.6" fill="url(#gCu)"/>
<circle cx="470" cy="389.4" r="2.6" fill="url(#gCu)"/>
<circle cx="474.2" cy="389.4" r="2.6" fill="url(#gCu)"/>
<circle cx="482.6" cy="389.4" r="2.6" fill="url(#gCu)"/>
<circle cx="486.8" cy="389.4" r="2.6" fill="url(#gCu)"/>
<circle cx="495.2" cy="389.4" r="2.6" fill="url(#gCu)"/>
<circle cx="499.4" cy="389.4" r="2.6" fill="url(#gCu)"/>
<circle cx="459.5" cy="393.1" r="2.6" fill="url(#gCu)"/>
<circle cx="463.7" cy="393.1" r="2.6" fill="url(#gCu)"/>
<circle cx="467.9" cy="393.1" r="2.6" fill="url(#gCu)"/>
<circle cx="472.1" cy="393.1" r="2.6" fill="url(#gCu)"/>
<circle cx="476.3" cy="393.1" r="2.6" fill="url(#gCu)"/>
<circle cx="480.5" cy="393.1" r="2.6" fill="url(#gCu)"/>
<circle cx="484.7" cy="393.1" r="2.6" fill="url(#gCu)"/>
<circle cx="488.9" cy="393.1" r="2.6" fill="url(#gCu)"/>
<circle cx="493.1" cy="393.1" r="2.6" fill="url(#gCu)"/>
<circle cx="497.3" cy="393.1" r="2.6" fill="url(#gCu)"/>
<circle cx="501.5" cy="393.1" r="2.6" fill="url(#gCu)"/>
<circle cx="465.8" cy="396.8" r="2.6" fill="url(#gCu)"/>
<circle cx="470" cy="396.8" r="2.6" fill="url(#gCu)"/>
<circle cx="478.4" cy="396.8" r="2.6" fill="url(#gCu)"/>
<circle cx="482.6" cy="396.8" r="2.6" fill="url(#gCu)"/>
<circle cx="491" cy="396.8" r="2.6" fill="url(#gCu)"/>
<circle cx="495.2" cy="396.8" r="2.6" fill="url(#gCu)"/>
<circle cx="467.9" cy="400.5" r="2.6" fill="url(#gCu)"/>
<circle cx="472.1" cy="400.5" r="2.6" fill="url(#gCu)"/>
<circle cx="476.3" cy="400.5" r="2.6" fill="url(#gCu)"/>
<circle cx="480.5" cy="400.5" r="2.6" fill="url(#gCu)"/>
<circle cx="484.7" cy="400.5" r="2.6" fill="url(#gCu)"/>
<circle cx="488.9" cy="400.5" r="2.6" fill="url(#gCu)"/>
<circle cx="493.1" cy="400.5" r="2.6" fill="url(#gCu)"/>
<circle cx="497.3" cy="400.5" r="2.6" fill="url(#gCu)"/>
<circle cx="474.2" cy="404.2" r="2.6" fill="url(#gCu)"/>
<circle cx="478.4" cy="404.2" r="2.6" fill="url(#gCu)"/>
<circle cx="486.8" cy="404.2" r="2.6" fill="url(#gCu)"/>
<circle cx="491" cy="404.2" r="2.6" fill="url(#gCu)"/>
<circle cx="472.1" cy="407.9" r="2.6" fill="url(#gCu)"/>
<circle cx="476.3" cy="407.9" r="2.6" fill="url(#gCu)"/>
<circle cx="480.5" cy="407.9" r="2.6" fill="url(#gCu)"/>
<circle cx="484.7" cy="407.9" r="2.6" fill="url(#gCu)"/>
<circle cx="488.9" cy="407.9" r="2.6" fill="url(#gCu)"/>
<polygon points="465,426.2 495,426.2 501.6,435.6 491.25,452.8 470,452.8 460.3,435.6" fill="#e58800" stroke="#e58800" stroke-width="2.24" stroke-linejoin="round"/>
<circle cx="466" cy="428" r="1.7" fill="url(#gO)"/>
<circle cx="479.8" cy="428" r="1.7" fill="url(#gO)"/>
<circle cx="493.6" cy="428" r="1.7" fill="url(#gO)"/>
<circle cx="461.4" cy="436" r="1.7" fill="url(#gO)"/>
<circle cx="475.2" cy="436" r="1.7" fill="url(#gO)"/>
<circle cx="489" cy="436" r="1.7" fill="url(#gO)"/>
<circle cx="470.6" cy="444" r="1.7" fill="url(#gO)"/>
<circle cx="484.4" cy="444" r="1.7" fill="url(#gO)"/>
<circle cx="479.8" cy="452" r="1.7" fill="url(#gO)"/>
<circle cx="470.6" cy="428" r="2.8" fill="url(#gCu)"/>
<circle cx="475.2" cy="428" r="2.8" fill="url(#gCu)"/>
<circle cx="484.4" cy="428" r="2.8" fill="url(#gCu)"/>
<circle cx="489" cy="428" r="2.8" fill="url(#gCu)"/>
<circle cx="463.7" cy="432" r="2.8" fill="url(#gCu)"/>
<circle cx="468.3" cy="432" r="2.8" fill="url(#gCu)"/>
<circle cx="472.9" cy="432" r="2.8" fill="url(#gCu)"/>
<circle cx="477.5" cy="432" r="2.8" fill="url(#gCu)"/>
<circle cx="482.1" cy="432" r="2.8" fill="url(#gCu)"/>
<circle cx="486.7" cy="432" r="2.8" fill="url(#gCu)"/>
<circle cx="491.3" cy="432" r="2.8" fill="url(#gCu)"/>
<circle cx="495.9" cy="432" r="2.8" fill="url(#gCu)"/>
<circle cx="466" cy="436" r="2.8" fill="url(#gCu)"/>
<circle cx="470.6" cy="436" r="2.8" fill="url(#gCu)"/>
<circle cx="479.8" cy="436" r="2.8" fill="url(#gCu)"/>
<circle cx="484.4" cy="436" r="2.8" fill="url(#gCu)"/>
<circle cx="493.6" cy="436" r="2.8" fill="url(#gCu)"/>
<circle cx="498.2" cy="436" r="2.8" fill="url(#gCu)"/>
<circle cx="463.7" cy="440" r="2.8" fill="url(#gCu)"/>
<circle cx="468.3" cy="440" r="2.8" fill="url(#gCu)"/>
<circle cx="472.9" cy="440" r="2.8" fill="url(#gCu)"/>
<circle cx="477.5" cy="440" r="2.8" fill="url(#gCu)"/>
<circle cx="482.1" cy="440" r="2.8" fill="url(#gCu)"/>
<circle cx="486.7" cy="440" r="2.8" fill="url(#gCu)"/>
<circle cx="491.3" cy="440" r="2.8" fill="url(#gCu)"/>
<circle cx="495.9" cy="440" r="2.8" fill="url(#gCu)"/>
<circle cx="466" cy="444" r="2.8" fill="url(#gCu)"/>
<circle cx="475.2" cy="444" r="2.8" fill="url(#gCu)"/>
<circle cx="479.8" cy="444" r="2.8" fill="url(#gCu)"/>
<circle cx="489" cy="444" r="2.8" fill="url(#gCu)"/>
<circle cx="493.6" cy="444" r="2.8" fill="url(#gCu)"/>
<circle cx="468.3" cy="448" r="2.8" fill="url(#gCu)"/>
<circle cx="472.9" cy="448" r="2.8" fill="url(#gCu)"/>
<circle cx="477.5" cy="448" r="2.8" fill="url(#gCu)"/>
<circle cx="482.1" cy="448" r="2.8" fill="url(#gCu)"/>
<circle cx="486.7" cy="448" r="2.8" fill="url(#gCu)"/>
<circle cx="491.3" cy="448" r="2.8" fill="url(#gCu)"/>
<circle cx="470.6" cy="452" r="2.8" fill="url(#gCu)"/>
<circle cx="475.2" cy="452" r="2.8" fill="url(#gCu)"/>
<circle cx="484.4" cy="452" r="2.8" fill="url(#gCu)"/>
<circle cx="489" cy="452" r="2.8" fill="url(#gCu)"/>
<polygon points="468.75,471.5 491.25,471.5 499,483.1 485,498.3 476.9,498.3 462.2,484.4" fill="#e58800" stroke="#e58800" stroke-width="2.56" stroke-linejoin="round"/>
<circle cx="470" cy="473.5" r="1.9" fill="url(#gO)"/>
<circle cx="485.6" cy="473.5" r="1.9" fill="url(#gO)"/>
<circle cx="464.8" cy="482.7" r="1.9" fill="url(#gO)"/>
<circle cx="480.4" cy="482.7" r="1.9" fill="url(#gO)"/>
<circle cx="496" cy="482.7" r="1.9" fill="url(#gO)"/>
<circle cx="475.2" cy="491.9" r="1.9" fill="url(#gO)"/>
<circle cx="490.8" cy="491.9" r="1.9" fill="url(#gO)"/>
<circle cx="475.2" cy="473.5" r="3.2" fill="url(#gCu)"/>
<circle cx="480.4" cy="473.5" r="3.2" fill="url(#gCu)"/>
<circle cx="490.8" cy="473.5" r="3.2" fill="url(#gCu)"/>
<circle cx="467.4" cy="478.1" r="3.2" fill="url(#gCu)"/>
<circle cx="472.6" cy="478.1" r="3.2" fill="url(#gCu)"/>
<circle cx="477.8" cy="478.1" r="3.2" fill="url(#gCu)"/>
<circle cx="483" cy="478.1" r="3.2" fill="url(#gCu)"/>
<circle cx="488.2" cy="478.1" r="3.2" fill="url(#gCu)"/>
<circle cx="493.4" cy="478.1" r="3.2" fill="url(#gCu)"/>
<circle cx="470" cy="482.7" r="3.2" fill="url(#gCu)"/>
<circle cx="475.2" cy="482.7" r="3.2" fill="url(#gCu)"/>
<circle cx="485.6" cy="482.7" r="3.2" fill="url(#gCu)"/>
<circle cx="490.8" cy="482.7" r="3.2" fill="url(#gCu)"/>
<circle cx="467.4" cy="487.3" r="3.2" fill="url(#gCu)"/>
<circle cx="472.6" cy="487.3" r="3.2" fill="url(#gCu)"/>
<circle cx="477.8" cy="487.3" r="3.2" fill="url(#gCu)"/>
<circle cx="483" cy="487.3" r="3.2" fill="url(#gCu)"/>
<circle cx="488.2" cy="487.3" r="3.2" fill="url(#gCu)"/>
<circle cx="493.4" cy="487.3" r="3.2" fill="url(#gCu)"/>
<circle cx="480.4" cy="491.9" r="3.2" fill="url(#gCu)"/>
<circle cx="485.6" cy="491.9" r="3.2" fill="url(#gCu)"/>
<circle cx="477.8" cy="496.5" r="3.2" fill="url(#gCu)"/>
<circle cx="483" cy="496.5" r="3.2" fill="url(#gCu)"/>
<ellipse cx="482.6" cy="535" rx="10.5" ry="8.5" fill="#e08000"/>
<circle cx="471.9" cy="533.5" r="2.6" fill="url(#gCu)"/>
<circle cx="493.3" cy="533.5" r="2.6" fill="url(#gCu)"/>
<circle cx="478.3" cy="528.7" r="4.6" fill="url(#gCu)"/>
<circle cx="487.6" cy="528.7" r="4.6" fill="url(#gCu)"/>
<circle cx="483.6" cy="531.5" r="2.2" fill="url(#gO)"/>
<circle cx="473.9" cy="540.4" r="2.6" fill="url(#gO)"/>
<circle cx="491.8" cy="540.4" r="2.6" fill="url(#gO)"/>
<circle cx="478.8" cy="539.2" r="4.8" fill="url(#gCu)"/>
<circle cx="487" cy="539.2" r="4.8" fill="url(#gCu)"/></svg></body></html>
